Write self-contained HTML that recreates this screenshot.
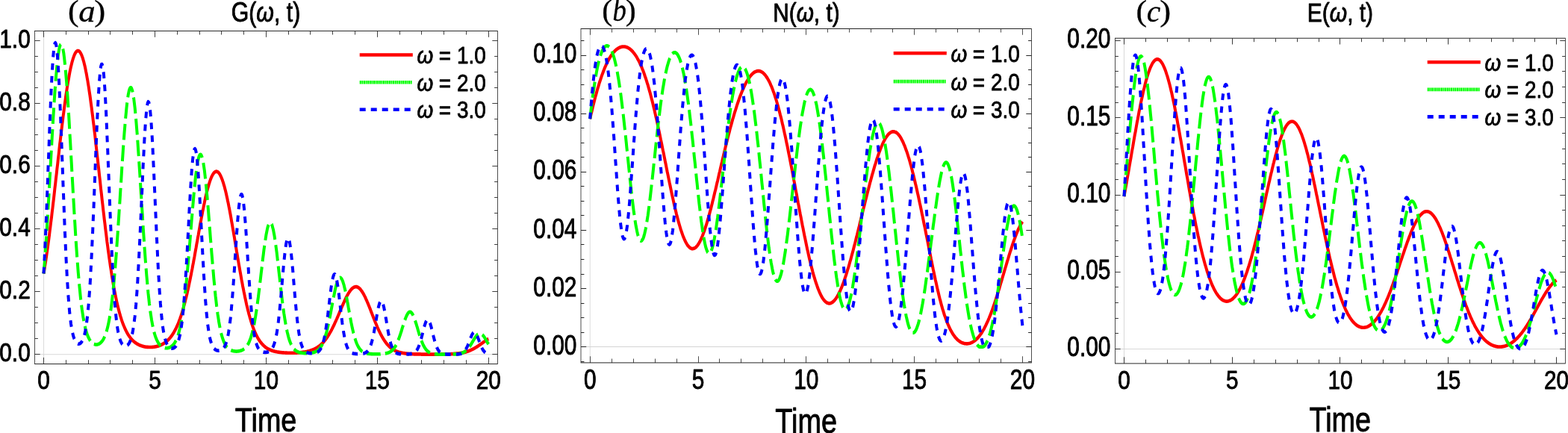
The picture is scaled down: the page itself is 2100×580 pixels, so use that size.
<!DOCTYPE html>
<html lang="en">
<head>
<meta charset="utf-8">
<title>G, N, E versus Time</title>
<style>
html,body{margin:0;padding:0;background:#fff;}
body{width:2100px;height:580px;overflow:hidden;}
svg{display:block;}
</style>
</head>
<body>
<svg width="2100" height="580" viewBox="0 0 2100 580">
<rect width="2100" height="580" fill="#fff"/>
<g id="panel-a">
<g transform="scale(1,1.1800)" fill="none" stroke="#d4d4d4" stroke-width="0.82"><path d="M58.55 35.169V413.136 M46.50 402.331H666.50"/></g>
<g transform="scale(1,1.1600)" fill="none" stroke-width="4" stroke-linejoin="round">
<path d="M58.5 315.9L59.3 312.0L60.0 308.0L60.8 303.8L61.5 299.6L62.3 295.2L63.0 290.7L63.8 286.1L64.5 281.3L65.3 276.5L66.0 271.6L66.7 266.5L67.5 261.4L68.2 256.2L69.0 250.9L69.7 245.5L70.5 240.1L71.2 234.6L72.0 229.0L72.7 223.4L73.4 217.7L74.2 212.1L74.9 206.3L75.7 200.6L76.4 194.9L77.2 189.2L77.9 183.5L78.7 177.8L79.4 172.1L80.1 166.5L80.9 161.0L81.6 155.5L82.4 150.0L83.1 144.7L83.9 139.4L84.6 134.3L85.4 129.2L86.1 124.3L86.8 119.5L87.6 114.8L88.3 110.3L89.1 105.9L89.8 101.6L90.6 97.6L91.3 93.7L92.1 90.0L92.8 86.4L93.5 83.1L94.3 79.9L95.0 77.0L95.8 74.2L96.5 71.7L97.3 69.4L98.0 67.3L98.8 65.4L99.5 63.7L100.3 62.3L101.0 61.1L101.7 60.1L102.5 59.4L103.2 58.9L104.0 58.6L104.7 58.6L105.5 58.8L106.2 59.3L107.0 60.0L107.7 60.9L108.4 62.0L109.2 63.4L109.9 65.0L110.7 66.9L111.4 69.0L112.2 71.3L112.9 73.8L113.7 76.5L114.4 79.4L115.1 82.6L115.9 85.9L116.6 89.5L117.4 93.2L118.1 97.1L118.9 101.2L119.6 105.4L120.4 109.9L121.1 114.4L121.8 119.2L122.6 124.0L123.3 129.0L124.1 134.1L124.8 139.4L125.6 144.7L126.3 150.1L127.1 155.6L127.8 161.2L128.5 166.9L129.3 172.6L130.0 178.4L130.8 184.2L131.5 190.0L132.3 195.8L133.0 201.7L133.8 207.5L134.5 213.3L135.2 219.1L136.0 224.9L136.7 230.7L137.5 236.3L138.2 242.0L139.0 247.6L139.7 253.1L140.5 258.5L141.2 263.9L142.0 269.2L142.7 274.3L143.4 279.4L144.2 284.4L144.9 289.2L145.7 294.0L146.4 298.6L147.2 303.1L147.9 307.5L148.7 311.8L149.4 315.9L150.1 319.9L150.9 323.8L151.6 327.5L152.4 331.2L153.1 334.7L153.9 338.0L154.6 341.3L155.4 344.4L156.1 347.4L156.8 350.2L157.6 353.0L158.3 355.6L159.1 358.2L159.8 360.6L160.6 362.9L161.3 365.1L162.1 367.2L162.8 369.2L163.5 371.0L164.3 372.9L165.0 374.6L165.8 376.2L166.5 377.7L167.3 379.2L168.0 380.6L168.8 381.9L169.5 383.2L170.2 384.3L171.0 385.5L171.7 386.5L172.5 387.5L173.2 388.4L174.0 389.3L174.7 390.2L175.5 391.0L176.2 391.7L176.9 392.4L177.7 393.1L178.4 393.7L179.2 394.3L179.9 394.8L180.7 395.3L181.4 395.8L182.2 396.2L182.9 396.7L183.7 397.1L184.4 397.4L185.1 397.8L185.9 398.1L186.6 398.4L187.4 398.7L188.1 398.9L188.9 399.2L189.6 399.4L190.4 399.6L191.1 399.8L191.8 400.0L192.6 400.1L193.3 400.3L194.1 400.4L194.8 400.5L195.6 400.6L196.3 400.7L197.1 400.7L197.8 400.8L198.5 400.8L199.3 400.9L200.0 400.9L200.8 400.9L201.5 400.9L202.3 400.9L203.0 400.9L203.8 400.8L204.5 400.8L205.2 400.7L206.0 400.6L206.7 400.5L207.5 400.4L208.2 400.3L209.0 400.2L209.7 400.0L210.5 399.9L211.2 399.7L211.9 399.5L212.7 399.3L213.4 399.1L214.2 398.8L214.9 398.5L215.7 398.3L216.4 398.0L217.2 397.6L217.9 397.3L218.6 396.9L219.4 396.5L220.1 396.1L220.9 395.7L221.6 395.2L222.4 394.7L223.1 394.2L223.9 393.6L224.6 393.0L225.4 392.4L226.1 391.7L226.8 391.0L227.6 390.3L228.3 389.5L229.1 388.7L229.8 387.8L230.6 386.9L231.3 385.9L232.1 384.9L232.8 383.9L233.5 382.7L234.3 381.6L235.0 380.3L235.8 379.1L236.5 377.7L237.3 376.3L238.0 374.8L238.8 373.3L239.5 371.6L240.2 370.0L241.0 368.2L241.7 366.4L242.5 364.5L243.2 362.5L244.0 360.4L244.7 358.3L245.5 356.1L246.2 353.8L246.9 351.4L247.7 349.0L248.4 346.5L249.2 343.9L249.9 341.2L250.7 338.4L251.4 335.6L252.2 332.7L252.9 329.7L253.6 326.7L254.4 323.6L255.1 320.4L255.9 317.2L256.6 313.9L257.4 310.5L258.1 307.1L258.9 303.7L259.6 300.2L260.4 296.7L261.1 293.1L261.8 289.6L262.6 286.0L263.3 282.3L264.1 278.7L264.8 275.1L265.6 271.5L266.3 267.9L267.1 264.3L267.8 260.8L268.5 257.2L269.3 253.8L270.0 250.3L270.8 247.0L271.5 243.6L272.3 240.4L273.0 237.2L273.8 234.1L274.5 231.1L275.2 228.2L276.0 225.4L276.7 222.7L277.5 220.1L278.2 217.6L279.0 215.3L279.7 213.1L280.5 211.0L281.2 209.1L281.9 207.3L282.7 205.6L283.4 204.1L284.2 202.8L284.9 201.6L285.7 200.6L286.4 199.7L287.2 199.1L287.9 198.5L288.6 198.2L289.4 198.0L290.1 198.0L290.9 198.2L291.6 198.5L292.4 199.0L293.1 199.7L293.9 200.6L294.6 201.6L295.3 202.8L296.1 204.2L296.8 205.7L297.6 207.3L298.3 209.2L299.1 211.2L299.8 213.3L300.6 215.6L301.3 218.0L302.1 220.6L302.8 223.2L303.5 226.0L304.3 229.0L305.0 232.0L305.8 235.1L306.5 238.4L307.3 241.7L308.0 245.1L308.8 248.6L309.5 252.2L310.2 255.8L311.0 259.5L311.7 263.2L312.5 267.0L313.2 270.8L314.0 274.6L314.7 278.5L315.5 282.4L316.2 286.2L316.9 290.1L317.7 293.9L318.4 297.7L319.2 301.6L319.9 305.3L320.7 309.1L321.4 312.7L322.2 316.4L322.9 320.0L323.6 323.5L324.4 327.0L325.1 330.4L325.9 333.7L326.6 336.9L327.4 340.1L328.1 343.2L328.9 346.2L329.6 349.1L330.3 352.0L331.1 354.7L331.8 357.3L332.6 359.9L333.3 362.4L334.1 364.7L334.8 367.0L335.6 369.2L336.3 371.3L337.0 373.3L337.8 375.3L338.5 377.1L339.3 378.9L340.0 380.6L340.8 382.2L341.5 383.7L342.3 385.1L343.0 386.5L343.8 387.8L344.5 389.0L345.2 390.2L346.0 391.3L346.7 392.3L347.5 393.3L348.2 394.2L349.0 395.1L349.7 395.9L350.5 396.7L351.2 397.4L351.9 398.1L352.7 398.8L353.4 399.4L354.2 399.9L354.9 400.5L355.7 401.0L356.4 401.4L357.2 401.9L357.9 402.3L358.6 402.7L359.4 403.0L360.1 403.4L360.9 403.7L361.6 404.0L362.4 404.2L363.1 404.5L363.9 404.7L364.6 405.0L365.3 405.2L366.1 405.4L366.8 405.5L367.6 405.7L368.3 405.9L369.1 406.0L369.8 406.1L370.6 406.3L371.3 406.4L372.0 406.5L372.8 406.6L373.5 406.7L374.3 406.8L375.0 406.9L375.8 406.9L376.5 407.0L377.3 407.1L378.0 407.1L378.7 407.2L379.5 407.2L380.2 407.3L381.0 407.3L381.7 407.3L382.5 407.4L383.2 407.4L384.0 407.4L384.7 407.5L385.5 407.5L386.2 407.5L386.9 407.5L387.7 407.5L388.4 407.5L389.2 407.5L389.9 407.5L390.7 407.5L391.4 407.5L392.2 407.5L392.9 407.5L393.6 407.5L394.4 407.5L395.1 407.4L395.9 407.4L396.6 407.4L397.4 407.4L398.1 407.3L398.9 407.3L399.6 407.2L400.3 407.2L401.1 407.1L401.8 407.1L402.6 407.0L403.3 407.0L404.1 406.9L404.8 406.8L405.6 406.7L406.3 406.6L407.0 406.6L407.8 406.5L408.5 406.4L409.3 406.2L410.0 406.1L410.8 406.0L411.5 405.9L412.3 405.7L413.0 405.5L413.7 405.4L414.5 405.2L415.2 405.0L416.0 404.8L416.7 404.6L417.5 404.4L418.2 404.1L419.0 403.9L419.7 403.6L420.4 403.3L421.2 403.0L421.9 402.7L422.7 402.4L423.4 402.0L424.2 401.6L424.9 401.2L425.7 400.8L426.4 400.3L427.2 399.9L427.9 399.4L428.6 398.9L429.4 398.3L430.1 397.7L430.9 397.1L431.6 396.5L432.4 395.8L433.1 395.1L433.9 394.4L434.6 393.6L435.3 392.8L436.1 392.0L436.8 391.1L437.6 390.2L438.3 389.3L439.1 388.3L439.8 387.3L440.6 386.3L441.3 385.2L442.0 384.1L442.8 382.9L443.5 381.8L444.3 380.6L445.0 379.3L445.8 378.0L446.5 376.7L447.3 375.4L448.0 374.0L448.7 372.6L449.5 371.2L450.2 369.8L451.0 368.3L451.7 366.9L452.5 365.4L453.2 363.9L454.0 362.4L454.7 360.8L455.4 359.3L456.2 357.8L456.9 356.3L457.7 354.8L458.4 353.3L459.2 351.8L459.9 350.4L460.7 348.9L461.4 347.5L462.2 346.1L462.9 344.8L463.6 343.5L464.4 342.2L465.1 341.0L465.9 339.9L466.6 338.8L467.4 337.8L468.1 336.8L468.9 335.9L469.6 335.0L470.3 334.3L471.1 333.6L471.8 333.0L472.6 332.5L473.3 332.0L474.1 331.7L474.8 331.4L475.6 331.2L476.3 331.1L477.0 331.2L477.8 331.2L478.5 331.4L479.3 331.7L480.0 332.1L480.8 332.6L481.5 333.1L482.3 333.7L483.0 334.5L483.7 335.3L484.5 336.2L485.2 337.1L486.0 338.2L486.7 339.3L487.5 340.5L488.2 341.7L489.0 343.0L489.7 344.4L490.4 345.8L491.2 347.2L491.9 348.7L492.7 350.3L493.4 351.8L494.2 353.4L494.9 355.0L495.7 356.7L496.4 358.3L497.1 360.0L497.9 361.6L498.6 363.3L499.4 364.9L500.1 366.6L500.9 368.2L501.6 369.9L502.4 371.5L503.1 373.0L503.9 374.6L504.6 376.1L505.3 377.6L506.1 379.1L506.8 380.5L507.6 381.9L508.3 383.2L509.1 384.6L509.8 385.8L510.6 387.1L511.3 388.2L512.0 389.4L512.8 390.5L513.5 391.5L514.3 392.5L515.0 393.5L515.8 394.4L516.5 395.3L517.3 396.2L518.0 397.0L518.7 397.7L519.5 398.4L520.2 399.1L521.0 399.8L521.7 400.4L522.5 401.0L523.2 401.5L524.0 402.0L524.7 402.5L525.4 403.0L526.2 403.4L526.9 403.8L527.7 404.2L528.4 404.5L529.2 404.9L529.9 405.2L530.7 405.5L531.4 405.7L532.1 406.0L532.9 406.2L533.6 406.4L534.4 406.6L535.1 406.8L535.9 407.0L536.6 407.2L537.4 407.3L538.1 407.4L538.8 407.6L539.6 407.7L540.3 407.8L541.1 407.9L541.8 408.0L542.6 408.1L543.3 408.2L544.1 408.2L544.8 408.3L545.6 408.4L546.3 408.4L547.0 408.5L547.8 408.5L548.5 408.6L549.3 408.6L550.0 408.7L550.8 408.7L551.5 408.7L552.3 408.8L553.0 408.8L553.7 408.8L554.5 408.9L555.2 408.9L556.0 408.9L556.7 408.9L557.5 408.9L558.2 409.0L559.0 409.0L559.7 409.0L560.4 409.0L561.2 409.0L561.9 409.0L562.7 409.0L563.4 409.0L564.2 409.1L564.9 409.1L565.7 409.1L566.4 409.1L567.1 409.1L567.9 409.1L568.6 409.1L569.4 409.1L570.1 409.1L570.9 409.1L571.6 409.1L572.4 409.1L573.1 409.1L573.8 409.1L574.6 409.1L575.3 409.1L576.1 409.1L576.8 409.1L577.6 409.1L578.3 409.1L579.1 409.1L579.8 409.1L580.5 409.1L581.3 409.1L582.0 409.1L582.8 409.1L583.5 409.1L584.3 409.1L585.0 409.1L585.8 409.1L586.5 409.1L587.3 409.1L588.0 409.1L588.7 409.1L589.5 409.1L590.2 409.1L591.0 409.0L591.7 409.0L592.5 409.0L593.2 409.0L594.0 409.0L594.7 409.0L595.4 409.0L596.2 409.0L596.9 409.0L597.7 408.9L598.4 408.9L599.2 408.9L599.9 408.9L600.7 408.9L601.4 408.8L602.1 408.8L602.9 408.8L603.6 408.8L604.4 408.7L605.1 408.7L605.9 408.7L606.6 408.6L607.4 408.6L608.1 408.5L608.8 408.5L609.6 408.4L610.3 408.4L611.1 408.3L611.8 408.3L612.6 408.2L613.3 408.1L614.1 408.0L614.8 408.0L615.5 407.9L616.3 407.8L617.0 407.7L617.8 407.6L618.5 407.5L619.3 407.3L620.0 407.2L620.8 407.1L621.5 406.9L622.3 406.8L623.0 406.6L623.7 406.4L624.5 406.2L625.2 406.0L626.0 405.8L626.7 405.6L627.5 405.4L628.2 405.1L629.0 404.9L629.7 404.6L630.4 404.3L631.2 404.0L631.9 403.7L632.7 403.4L633.4 403.1L634.2 402.7L634.9 402.4L635.7 402.0L636.4 401.7L637.1 401.3L637.9 400.9L638.6 400.5L639.4 400.1L640.1 399.6L640.9 399.2L641.6 398.8L642.4 398.3L643.1 397.9L643.8 397.4L644.6 396.9L645.3 396.5L646.1 396.0L646.8 395.6L647.6 395.1L648.3 394.6L649.1 394.2L649.8 393.8L650.5 393.3L651.3 392.9L652.0 392.5L652.8 392.1L653.5 391.7L654.3 391.4" stroke="#ff0000"/>
<path d="M58.5 315.9L59.3 308.0L60.0 299.5L60.8 290.5L61.5 281.1L62.3 271.3L63.0 261.0L63.8 250.4L64.5 239.5L65.3 228.3L66.0 216.8L66.7 205.3L67.5 193.7L68.2 182.0L69.0 170.5L69.7 159.1L70.5 147.9L71.2 137.0L72.0 126.5L72.7 116.4L73.4 106.9L74.2 97.9L74.9 89.6L75.7 82.0L76.4 75.1L77.2 69.1L77.9 63.8L78.7 59.5L79.4 56.0L80.1 53.5L80.9 51.8L81.6 51.2L82.4 51.4L83.1 52.7L83.9 54.8L84.6 57.9L85.4 61.9L86.1 66.8L86.8 72.5L87.6 79.0L88.3 86.4L89.1 94.4L89.8 103.1L90.6 112.5L91.3 122.3L92.1 132.7L92.8 143.5L93.5 154.6L94.3 166.0L95.0 177.6L95.8 189.3L96.5 201.0L97.3 212.7L98.0 224.2L98.8 235.6L99.5 246.8L100.3 257.6L101.0 268.1L101.7 278.2L102.5 287.9L103.2 297.1L104.0 305.8L104.7 314.1L105.5 321.8L106.2 329.0L107.0 335.8L107.7 342.0L108.4 347.8L109.2 353.1L109.9 357.9L110.7 362.4L111.4 366.4L112.2 370.1L112.9 373.4L113.7 376.5L114.4 379.2L115.1 381.6L115.9 383.8L116.6 385.7L117.4 387.5L118.1 389.0L118.9 390.4L119.6 391.6L120.4 392.7L121.1 393.7L121.8 394.5L122.6 395.2L123.3 395.8L124.1 396.4L124.8 396.8L125.6 397.2L126.3 397.4L127.1 397.6L127.8 397.8L128.5 397.9L129.3 397.9L130.0 397.8L130.8 397.7L131.5 397.5L132.3 397.2L133.0 396.9L133.8 396.5L134.5 396.0L135.2 395.4L136.0 394.7L136.7 394.0L137.5 393.1L138.2 392.1L139.0 390.9L139.7 389.6L140.5 388.1L141.2 386.5L142.0 384.7L142.7 382.6L143.4 380.3L144.2 377.8L144.9 375.0L145.7 371.9L146.4 368.5L147.2 364.8L147.9 360.7L148.7 356.2L149.4 351.3L150.1 346.1L150.9 340.4L151.6 334.3L152.4 327.7L153.1 320.7L153.9 313.3L154.6 305.5L155.4 297.2L156.1 288.6L156.8 279.6L157.6 270.3L158.3 260.7L159.1 250.9L159.8 241.0L160.6 230.9L161.3 220.7L162.1 210.5L162.8 200.5L163.5 190.5L164.3 180.8L165.0 171.4L165.8 162.3L166.5 153.6L167.3 145.5L168.0 137.8L168.8 130.8L169.5 124.4L170.2 118.7L171.0 113.7L171.7 109.5L172.5 106.2L173.2 103.6L174.0 101.9L174.7 101.1L175.5 101.1L176.2 102.0L176.9 103.7L177.7 106.3L178.4 109.7L179.2 114.0L179.9 119.0L180.7 124.8L181.4 131.3L182.2 138.5L182.9 146.2L183.7 154.5L184.4 163.4L185.1 172.6L185.9 182.2L186.6 192.2L187.4 202.3L188.1 212.6L188.9 223.0L189.6 233.4L190.4 243.7L191.1 253.9L191.8 263.9L192.6 273.7L193.3 283.2L194.1 292.4L194.8 301.2L195.6 309.6L196.3 317.5L197.1 325.1L197.8 332.1L198.5 338.8L199.3 344.9L200.0 350.7L200.8 355.9L201.5 360.8L202.3 365.2L203.0 369.3L203.8 373.0L204.5 376.4L205.2 379.4L206.0 382.1L206.7 384.6L207.5 386.8L208.2 388.8L209.0 390.5L209.7 392.1L210.5 393.5L211.2 394.7L211.9 395.8L212.7 396.8L213.4 397.6L214.2 398.4L214.9 399.1L215.7 399.6L216.4 400.1L217.2 400.5L217.9 400.9L218.6 401.2L219.4 401.4L220.1 401.6L220.9 401.8L221.6 401.9L222.4 401.9L223.1 402.0L223.9 401.9L224.6 401.8L225.4 401.7L226.1 401.5L226.8 401.3L227.6 401.0L228.3 400.7L229.1 400.3L229.8 399.9L230.6 399.3L231.3 398.7L232.1 398.0L232.8 397.3L233.5 396.4L234.3 395.4L235.0 394.2L235.8 393.0L236.5 391.6L237.3 390.0L238.0 388.2L238.8 386.2L239.5 384.1L240.2 381.6L241.0 379.0L241.7 376.1L242.5 372.9L243.2 369.3L244.0 365.5L244.7 361.4L245.5 356.9L246.2 352.1L246.9 346.9L247.7 341.4L248.4 335.5L249.2 329.3L249.9 322.8L250.7 316.0L251.4 308.9L252.2 301.6L252.9 294.1L253.6 286.3L254.4 278.5L255.1 270.6L255.9 262.7L256.6 254.8L257.4 247.0L258.1 239.3L258.9 231.9L259.6 224.7L260.4 217.9L261.1 211.5L261.8 205.4L262.6 199.9L263.3 195.0L264.1 190.6L264.8 186.8L265.6 183.7L266.3 181.3L267.1 179.6L267.8 178.6L268.5 178.4L269.3 178.8L270.0 180.1L270.8 182.0L271.5 184.7L272.3 188.0L273.0 192.0L273.8 196.6L274.5 201.9L275.2 207.6L276.0 213.9L276.7 220.6L277.5 227.7L278.2 235.2L279.0 242.9L279.7 250.8L280.5 258.9L281.2 267.1L281.9 275.3L282.7 283.4L283.4 291.5L284.2 299.4L284.9 307.2L285.7 314.7L286.4 321.9L287.2 328.8L287.9 335.4L288.6 341.7L289.4 347.6L290.1 353.1L290.9 358.2L291.6 363.0L292.4 367.4L293.1 371.5L293.9 375.2L294.6 378.6L295.3 381.6L296.1 384.4L296.8 386.9L297.6 389.2L298.3 391.2L299.1 393.0L299.8 394.6L300.6 396.1L301.3 397.3L302.1 398.5L302.8 399.5L303.5 400.4L304.3 401.1L305.0 401.8L305.8 402.4L306.5 403.0L307.3 403.4L308.0 403.8L308.8 404.2L309.5 404.5L310.2 404.7L311.0 405.0L311.7 405.1L312.5 405.3L313.2 405.4L314.0 405.5L314.7 405.6L315.5 405.6L316.2 405.7L316.9 405.7L317.7 405.6L318.4 405.6L319.2 405.5L319.9 405.4L320.7 405.3L321.4 405.2L322.2 405.0L322.9 404.8L323.6 404.5L324.4 404.2L325.1 403.9L325.9 403.5L326.6 403.1L327.4 402.6L328.1 402.0L328.9 401.4L329.6 400.7L330.3 399.8L331.1 398.9L331.8 397.9L332.6 396.8L333.3 395.5L334.1 394.0L334.8 392.4L335.6 390.7L336.3 388.7L337.0 386.6L337.8 384.2L338.5 381.7L339.3 378.8L340.0 375.8L340.8 372.5L341.5 368.9L342.3 365.1L343.0 361.1L343.8 356.8L344.5 352.3L345.2 347.5L346.0 342.6L346.7 337.5L347.5 332.2L348.2 326.8L349.0 321.3L349.7 315.8L350.5 310.3L351.2 304.8L351.9 299.4L352.7 294.1L353.4 289.0L354.2 284.1L354.9 279.5L355.7 275.3L356.4 271.4L357.2 267.8L357.9 264.8L358.6 262.2L359.4 260.1L360.1 258.5L360.9 257.5L361.6 257.0L362.4 257.1L363.1 257.7L363.9 258.9L364.6 260.7L365.3 263.0L366.1 265.7L366.8 269.0L367.6 272.7L368.3 276.9L369.1 281.4L369.8 286.2L370.6 291.3L371.3 296.6L372.0 302.2L372.8 307.8L373.5 313.5L374.3 319.3L375.0 325.0L375.8 330.7L376.5 336.3L377.3 341.8L378.0 347.0L378.7 352.1L379.5 356.9L380.2 361.5L381.0 365.9L381.7 369.9L382.5 373.7L383.2 377.2L384.0 380.5L384.7 383.5L385.5 386.2L386.2 388.7L386.9 390.9L387.7 392.9L388.4 394.7L389.2 396.4L389.9 397.8L390.7 399.1L391.4 400.2L392.2 401.3L392.9 402.1L393.6 402.9L394.4 403.6L395.1 404.2L395.9 404.7L396.6 405.2L397.4 405.6L398.1 406.0L398.9 406.3L399.6 406.5L400.3 406.8L401.1 407.0L401.8 407.1L402.6 407.3L403.3 407.4L404.1 407.5L404.8 407.6L405.6 407.7L406.3 407.8L407.0 407.8L407.8 407.9L408.5 407.9L409.3 407.9L410.0 407.9L410.8 407.9L411.5 407.9L412.3 407.9L413.0 407.9L413.7 407.8L414.5 407.8L415.2 407.7L416.0 407.6L416.7 407.5L417.5 407.4L418.2 407.3L419.0 407.2L419.7 407.0L420.4 406.8L421.2 406.6L421.9 406.3L422.7 406.0L423.4 405.7L424.2 405.3L424.9 404.9L425.7 404.4L426.4 403.9L427.2 403.3L427.9 402.6L428.6 401.8L429.4 400.9L430.1 400.0L430.9 398.9L431.6 397.7L432.4 396.3L433.1 394.8L433.9 393.2L434.6 391.4L435.3 389.5L436.1 387.4L436.8 385.1L437.6 382.7L438.3 380.1L439.1 377.3L439.8 374.4L440.6 371.4L441.3 368.2L442.0 365.0L442.8 361.6L443.5 358.2L444.3 354.7L445.0 351.3L445.8 347.8L446.5 344.5L447.3 341.2L448.0 338.1L448.7 335.1L449.5 332.3L450.2 329.7L451.0 327.4L451.7 325.4L452.5 323.8L453.2 322.4L454.0 321.4L454.7 320.8L455.4 320.6L456.2 320.7L456.9 321.3L457.7 322.2L458.4 323.5L459.2 325.1L459.9 327.1L460.7 329.4L461.4 331.9L462.2 334.7L462.9 337.8L463.6 341.0L464.4 344.4L465.1 347.9L465.9 351.4L466.6 355.0L467.4 358.6L468.1 362.2L468.9 365.7L469.6 369.1L470.3 372.4L471.1 375.6L471.8 378.6L472.6 381.5L473.3 384.2L474.1 386.7L474.8 389.1L475.6 391.2L476.3 393.2L477.0 395.0L477.8 396.7L478.5 398.1L479.3 399.5L480.0 400.7L480.8 401.7L481.5 402.6L482.3 403.5L483.0 404.2L483.7 404.8L484.5 405.4L485.2 405.9L486.0 406.3L486.7 406.7L487.5 407.0L488.2 407.3L489.0 407.5L489.7 407.7L490.4 407.9L491.2 408.0L491.9 408.2L492.7 408.3L493.4 408.4L494.2 408.5L494.9 408.5L495.7 408.6L496.4 408.6L497.1 408.7L497.9 408.7L498.6 408.8L499.4 408.8L500.1 408.8L500.9 408.8L501.6 408.8L502.4 408.8L503.1 408.8L503.9 408.8L504.6 408.8L505.3 408.8L506.1 408.8L506.8 408.8L507.6 408.8L508.3 408.8L509.1 408.8L509.8 408.7L510.6 408.7L511.3 408.7L512.0 408.6L512.8 408.6L513.5 408.5L514.3 408.4L515.0 408.3L515.8 408.2L516.5 408.1L517.3 408.0L518.0 407.8L518.7 407.7L519.5 407.5L520.2 407.2L521.0 407.0L521.7 406.7L522.5 406.3L523.2 405.9L524.0 405.5L524.7 405.0L525.4 404.4L526.2 403.8L526.9 403.0L527.7 402.2L528.4 401.3L529.2 400.4L529.9 399.3L530.7 398.1L531.4 396.8L532.1 395.4L532.9 393.8L533.6 392.2L534.4 390.5L535.1 388.7L535.9 386.8L536.6 384.9L537.4 382.9L538.1 380.8L538.8 378.7L539.6 376.6L540.3 374.6L541.1 372.6L541.8 370.6L542.6 368.8L543.3 367.1L544.1 365.5L544.8 364.1L545.6 362.9L546.3 361.8L547.0 361.1L547.8 360.5L548.5 360.2L549.3 360.1L550.0 360.3L550.8 360.8L551.5 361.5L552.3 362.5L553.0 363.6L553.7 365.0L554.5 366.6L555.2 368.3L556.0 370.2L556.7 372.1L557.5 374.2L558.2 376.3L559.0 378.5L559.7 380.7L560.4 382.8L561.2 385.0L561.9 387.0L562.7 389.0L563.4 390.9L564.2 392.7L564.9 394.4L565.7 396.0L566.4 397.5L567.1 398.8L567.9 400.0L568.6 401.2L569.4 402.2L570.1 403.1L570.9 403.9L571.6 404.6L572.4 405.2L573.1 405.8L573.8 406.2L574.6 406.7L575.3 407.0L576.1 407.3L576.8 407.6L577.6 407.8L578.3 408.0L579.1 408.2L579.8 408.4L580.5 408.5L581.3 408.6L582.0 408.7L582.8 408.8L583.5 408.8L584.3 408.9L585.0 408.9L585.8 409.0L586.5 409.0L587.3 409.0L588.0 409.0L588.7 409.1L589.5 409.1L590.2 409.1L591.0 409.1L591.7 409.1L592.5 409.1L593.2 409.1L594.0 409.1L594.7 409.1L595.4 409.2L596.2 409.2L596.9 409.2L597.7 409.2L598.4 409.2L599.2 409.2L599.9 409.2L600.7 409.1L601.4 409.1L602.1 409.1L602.9 409.1L603.6 409.1L604.4 409.1L605.1 409.1L605.9 409.1L606.6 409.1L607.4 409.0L608.1 409.0L608.8 409.0L609.6 409.0L610.3 408.9L611.1 408.9L611.8 408.8L612.6 408.7L613.3 408.7L614.1 408.6L614.8 408.5L615.5 408.4L616.3 408.2L617.0 408.1L617.8 407.9L618.5 407.7L619.3 407.5L620.0 407.2L620.8 406.9L621.5 406.5L622.3 406.1L623.0 405.7L623.7 405.2L624.5 404.7L625.2 404.1L626.0 403.4L626.7 402.7L627.5 401.9L628.2 401.1L629.0 400.2L629.7 399.2L630.4 398.2L631.2 397.2L631.9 396.1L632.7 395.0L633.4 393.9L634.2 392.8L634.9 391.8L635.7 390.7L636.4 389.7L637.1 388.8L637.9 387.9L638.6 387.2L639.4 386.5L640.1 386.0L640.9 385.6L641.6 385.3L642.4 385.1L643.1 385.1L643.8 385.3L644.6 385.6L645.3 386.0L646.1 386.6L646.8 387.2L647.6 388.0L648.3 388.9L649.1 389.9L649.8 390.9L650.5 392.0L651.3 393.1L652.0 394.2L652.8 395.4L653.5 396.5L654.3 397.6" stroke="#00ff00" stroke-dasharray="18.6 6.16" stroke-dashoffset="0"/>
<path d="M58.5 315.9L59.3 303.8L60.0 290.5L60.8 276.2L61.5 260.9L62.3 244.8L63.0 228.0L63.8 210.8L64.5 193.3L65.3 175.8L66.0 158.5L66.7 141.8L67.5 125.8L68.2 110.8L69.0 97.0L69.7 84.7L70.5 74.0L71.2 65.1L72.0 58.1L72.7 53.1L73.4 50.2L74.2 49.4L74.9 50.7L75.7 54.2L76.4 59.7L77.2 67.2L77.9 76.6L78.7 87.7L79.4 100.5L80.1 114.6L80.9 129.9L81.6 146.2L82.4 163.2L83.1 180.6L83.9 198.2L84.6 215.7L85.4 232.9L86.1 249.6L86.8 265.6L87.6 280.7L88.3 294.8L89.1 307.8L89.8 319.7L90.6 330.5L91.3 340.2L92.1 348.8L92.8 356.4L93.5 363.0L94.3 368.8L95.0 373.8L95.8 378.0L96.5 381.7L97.3 384.8L98.0 387.4L98.8 389.6L99.5 391.4L100.3 392.9L101.0 394.1L101.7 395.1L102.5 395.9L103.2 396.4L104.0 396.8L104.7 397.1L105.5 397.1L106.2 397.0L107.0 396.8L107.7 396.4L108.4 395.8L109.2 395.0L109.9 394.0L110.7 392.8L111.4 391.3L112.2 389.4L112.9 387.2L113.7 384.6L114.4 381.5L115.1 377.9L115.9 373.7L116.6 368.7L117.4 363.0L118.1 356.5L118.9 349.1L119.6 340.6L120.4 331.2L121.1 320.7L121.8 309.1L122.6 296.5L123.3 283.0L124.1 268.5L124.8 253.3L125.6 237.5L126.3 221.3L127.1 204.8L127.8 188.4L128.5 172.2L129.3 156.6L130.0 141.7L130.8 127.8L131.5 115.2L132.3 103.9L133.0 94.3L133.8 86.4L134.5 80.4L135.2 76.3L136.0 74.2L136.7 74.2L137.5 76.2L138.2 80.2L139.0 86.3L139.7 94.2L140.5 103.8L141.2 115.1L142.0 127.8L142.7 141.8L143.4 156.8L144.2 172.6L144.9 188.9L145.7 205.5L146.4 222.2L147.2 238.6L147.9 254.6L148.7 270.0L149.4 284.7L150.1 298.4L150.9 311.1L151.6 322.8L152.4 333.4L153.1 342.9L153.9 351.4L154.6 358.9L155.4 365.4L156.1 371.1L156.8 376.0L157.6 380.2L158.3 383.8L159.1 386.9L159.8 389.4L160.6 391.6L161.3 393.4L162.1 394.9L162.8 396.1L163.5 397.1L164.3 397.9L165.0 398.5L165.8 399.0L166.5 399.3L167.3 399.5L168.0 399.5L168.8 399.5L169.5 399.3L170.2 398.9L171.0 398.4L171.7 397.7L172.5 396.9L173.2 395.9L174.0 394.6L174.7 393.0L175.5 391.2L176.2 389.0L176.9 386.3L177.7 383.3L178.4 379.6L179.2 375.4L179.9 370.5L180.7 364.9L181.4 358.5L182.2 351.1L182.9 342.9L183.7 333.8L184.4 323.7L185.1 312.7L185.9 300.7L186.6 288.0L187.4 274.6L188.1 260.6L188.9 246.2L189.6 231.6L190.4 217.0L191.1 202.6L191.8 188.7L192.6 175.5L193.3 163.2L194.1 152.0L194.8 142.2L195.6 133.8L196.3 127.0L197.1 122.0L197.8 118.8L198.5 117.5L199.3 118.1L200.0 120.5L200.8 124.9L201.5 131.0L202.3 138.8L203.0 148.2L203.8 158.9L204.5 170.9L205.2 184.0L206.0 197.8L206.7 212.2L207.5 226.9L208.2 241.8L209.0 256.5L209.7 270.9L210.5 284.8L211.2 298.1L211.9 310.5L212.7 322.1L213.4 332.7L214.2 342.3L214.9 350.9L215.7 358.6L216.4 365.4L217.2 371.3L217.9 376.5L218.6 380.9L219.4 384.7L220.1 387.9L220.9 390.7L221.6 393.0L222.4 394.9L223.1 396.5L223.9 397.9L224.6 399.0L225.4 399.9L226.1 400.6L226.8 401.2L227.6 401.6L228.3 401.9L229.1 402.2L229.8 402.3L230.6 402.3L231.3 402.2L232.1 402.1L232.8 401.8L233.5 401.4L234.3 400.9L235.0 400.3L235.8 399.5L236.5 398.5L237.3 397.3L238.0 395.9L238.8 394.2L239.5 392.1L240.2 389.7L241.0 386.9L241.7 383.6L242.5 379.7L243.2 375.3L244.0 370.1L244.7 364.3L245.5 357.7L246.2 350.3L246.9 342.1L247.7 333.1L248.4 323.3L249.2 312.9L249.9 301.7L250.7 290.1L251.4 278.1L252.2 265.9L252.9 253.7L253.6 241.6L254.4 229.9L255.1 218.8L255.9 208.5L256.6 199.1L257.4 190.9L258.1 184.0L258.9 178.5L259.6 174.6L260.4 172.3L261.1 171.7L261.8 172.7L262.6 175.4L263.3 179.7L264.1 185.6L264.8 192.9L265.6 201.5L266.3 211.2L267.1 222.0L267.8 233.4L268.5 245.5L269.3 257.9L270.0 270.4L270.8 282.8L271.5 295.0L272.3 306.8L273.0 318.0L273.8 328.5L274.5 338.3L275.2 347.2L276.0 355.3L276.7 362.6L277.5 369.0L278.2 374.7L279.0 379.6L279.7 383.8L280.5 387.5L281.2 390.6L281.9 393.2L282.7 395.4L283.4 397.3L284.2 398.8L284.9 400.1L285.7 401.2L286.4 402.1L287.2 402.8L287.9 403.4L288.6 403.8L289.4 404.2L290.1 404.5L290.9 404.7L291.6 404.8L292.4 404.9L293.1 404.9L293.9 404.8L294.6 404.7L295.3 404.5L296.1 404.3L296.8 403.9L297.6 403.5L298.3 402.9L299.1 402.2L299.8 401.4L300.6 400.4L301.3 399.2L302.1 397.8L302.8 396.0L303.5 394.0L304.3 391.6L305.0 388.8L305.8 385.5L306.5 381.7L307.3 377.3L308.0 372.3L308.8 366.7L309.5 360.4L310.2 353.4L311.0 345.8L311.7 337.6L312.5 328.8L313.2 319.6L314.0 310.0L314.7 300.1L315.5 290.2L316.2 280.4L316.9 270.9L317.7 261.8L318.4 253.4L319.2 245.8L319.9 239.1L320.7 233.5L321.4 229.2L322.2 226.2L322.9 224.6L323.6 224.4L324.4 225.7L325.1 228.4L325.9 232.4L326.6 237.7L327.4 244.2L328.1 251.8L328.9 260.2L329.6 269.3L330.3 278.9L331.1 288.9L331.8 299.0L332.6 309.1L333.3 319.1L334.1 328.6L334.8 337.7L335.6 346.3L336.3 354.2L337.0 361.4L337.8 367.9L338.5 373.8L339.3 378.9L340.0 383.4L340.8 387.3L341.5 390.6L342.3 393.5L343.0 395.9L343.8 397.9L344.5 399.6L345.2 401.0L346.0 402.2L346.7 403.2L347.5 403.9L348.2 404.6L349.0 405.1L349.7 405.6L350.5 405.9L351.2 406.2L351.9 406.4L352.7 406.6L353.4 406.7L354.2 406.8L354.9 406.8L355.7 406.8L356.4 406.8L357.2 406.7L357.9 406.6L358.6 406.4L359.4 406.2L360.1 405.9L360.9 405.5L361.6 405.1L362.4 404.6L363.1 404.0L363.9 403.2L364.6 402.2L365.3 401.1L366.1 399.8L366.8 398.2L367.6 396.3L368.3 394.1L369.1 391.5L369.8 388.5L370.6 385.0L371.3 381.0L372.0 376.6L372.8 371.6L373.5 366.1L374.3 360.1L375.0 353.6L375.8 346.8L376.5 339.6L377.3 332.2L378.0 324.7L378.7 317.2L379.5 310.0L380.2 303.0L381.0 296.5L381.7 290.7L382.5 285.6L383.2 281.4L384.0 278.2L384.7 276.0L385.5 275.0L386.2 275.2L386.9 276.5L387.7 278.9L388.4 282.5L389.2 287.0L389.9 292.4L390.7 298.6L391.4 305.4L392.2 312.6L392.9 320.1L393.6 327.8L394.4 335.5L395.1 343.1L395.9 350.4L396.6 357.3L397.4 363.8L398.1 369.8L398.9 375.2L399.6 380.1L400.3 384.4L401.1 388.2L401.8 391.5L402.6 394.4L403.3 396.8L404.1 398.8L404.8 400.5L405.6 402.0L406.3 403.1L407.0 404.1L407.8 404.9L408.5 405.6L409.3 406.1L410.0 406.5L410.8 406.9L411.5 407.2L412.3 407.4L413.0 407.6L413.7 407.7L414.5 407.8L415.2 407.9L416.0 408.0L416.7 408.0L417.5 408.0L418.2 408.0L419.0 408.0L419.7 408.0L420.4 407.9L421.2 407.8L421.9 407.7L422.7 407.5L423.4 407.3L424.2 407.1L424.9 406.8L425.7 406.4L426.4 405.9L427.2 405.4L427.9 404.7L428.6 403.9L429.4 402.9L430.1 401.8L430.9 400.4L431.6 398.7L432.4 396.8L433.1 394.5L433.9 392.0L434.6 389.0L435.3 385.6L436.1 381.9L436.8 377.8L437.6 373.3L438.3 368.4L439.1 363.3L439.8 358.0L440.6 352.6L441.3 347.2L442.0 341.9L442.8 336.8L443.5 332.0L444.3 327.7L445.0 323.9L445.8 320.9L446.5 318.6L447.3 317.2L448.0 316.6L448.7 316.9L449.5 318.1L450.2 320.2L451.0 323.1L451.7 326.7L452.5 330.9L453.2 335.6L454.0 340.8L454.7 346.2L455.4 351.7L456.2 357.3L456.9 362.8L457.7 368.1L458.4 373.1L459.2 377.8L459.9 382.1L460.7 386.0L461.4 389.5L462.2 392.6L462.9 395.3L463.6 397.6L464.4 399.6L465.1 401.2L465.9 402.6L466.6 403.8L467.4 404.7L468.1 405.5L468.9 406.2L469.6 406.7L470.3 407.1L471.1 407.5L471.8 407.7L472.6 407.9L473.3 408.1L474.1 408.3L474.8 408.4L475.6 408.5L476.3 408.5L477.0 408.6L477.8 408.6L478.5 408.7L479.3 408.7L480.0 408.7L480.8 408.7L481.5 408.7L482.3 408.6L483.0 408.6L483.7 408.5L484.5 408.5L485.2 408.4L486.0 408.3L486.7 408.2L487.5 408.0L488.2 407.8L489.0 407.5L489.7 407.2L490.4 406.8L491.2 406.4L491.9 405.8L492.7 405.1L493.4 404.3L494.2 403.2L494.9 402.1L495.7 400.7L496.4 399.0L497.1 397.1L497.9 394.9L498.6 392.5L499.4 389.7L500.1 386.7L500.9 383.4L501.6 379.9L502.4 376.3L503.1 372.5L503.9 368.7L504.6 365.0L505.3 361.3L506.1 358.0L506.8 354.9L507.6 352.3L508.3 350.2L509.1 348.6L509.8 347.7L510.6 347.4L511.3 347.8L512.0 348.8L512.8 350.5L513.5 352.7L514.3 355.5L515.0 358.6L515.8 362.1L516.5 365.9L517.3 369.7L518.0 373.7L518.7 377.5L519.5 381.2L520.2 384.8L521.0 388.1L521.7 391.1L522.5 393.9L523.2 396.3L524.0 398.4L524.7 400.3L525.4 401.8L526.2 403.2L526.9 404.3L527.7 405.2L528.4 406.0L529.2 406.6L529.9 407.1L530.7 407.5L531.4 407.8L532.1 408.1L532.9 408.3L533.6 408.4L534.4 408.6L535.1 408.7L535.9 408.8L536.6 408.8L537.4 408.9L538.1 408.9L538.8 408.9L539.6 409.0L540.3 409.0L541.1 409.0L541.8 409.0L542.6 409.0L543.3 409.0L544.1 409.0L544.8 409.0L545.6 409.0L546.3 408.9L547.0 408.9L547.8 408.9L548.5 408.8L549.3 408.7L550.0 408.6L550.8 408.5L551.5 408.4L552.3 408.2L553.0 408.0L553.7 407.7L554.5 407.4L555.2 407.0L556.0 406.5L556.7 405.9L557.5 405.2L558.2 404.4L559.0 403.3L559.7 402.2L560.4 400.8L561.2 399.2L561.9 397.4L562.7 395.5L563.4 393.3L564.2 391.0L564.9 388.5L565.7 386.0L566.4 383.4L567.1 380.9L567.9 378.4L568.6 376.1L569.4 374.0L570.1 372.2L570.9 370.8L571.6 369.8L572.4 369.3L573.1 369.2L573.8 369.6L574.6 370.4L575.3 371.7L576.1 373.4L576.8 375.5L577.6 377.8L578.3 380.3L579.1 382.9L579.8 385.6L580.5 388.2L581.3 390.8L582.0 393.2L582.8 395.5L583.5 397.6L584.3 399.4L585.0 401.1L585.8 402.5L586.5 403.7L587.3 404.7L588.0 405.6L588.7 406.3L589.5 406.9L590.2 407.4L591.0 407.8L591.7 408.1L592.5 408.3L593.2 408.5L594.0 408.6L594.7 408.8L595.4 408.9L596.2 408.9L596.9 409.0L597.7 409.0L598.4 409.1L599.2 409.1L599.9 409.1L600.7 409.1L601.4 409.1L602.1 409.2L602.9 409.2L603.6 409.2L604.4 409.2L605.1 409.2L605.9 409.2L606.6 409.2L607.4 409.2L608.1 409.1L608.8 409.1L609.6 409.1L610.3 409.1L611.1 409.1L611.8 409.0L612.6 409.0L613.3 408.9L614.1 408.9L614.8 408.8L615.5 408.7L616.3 408.6L617.0 408.4L617.8 408.2L618.5 407.9L619.3 407.6L620.0 407.2L620.8 406.7L621.5 406.1L622.3 405.4L623.0 404.6L623.7 403.6L624.5 402.5L625.2 401.3L626.0 399.9L626.7 398.4L627.5 396.8L628.2 395.1L629.0 393.4L629.7 391.6L630.4 389.9L631.2 388.4L631.9 386.9L632.7 385.7L633.4 384.8L634.2 384.1L634.9 383.8L635.7 383.8L636.4 384.1L637.1 384.8L637.9 385.7L638.6 386.9L639.4 388.4L640.1 390.0L640.9 391.7L641.6 393.5L642.4 395.3L643.1 397.0L643.8 398.7L644.6 400.2L645.3 401.6L646.1 402.9L646.8 404.0L647.6 404.9L648.3 405.7L649.1 406.4L649.8 407.0L650.5 407.5L651.3 407.8L652.0 408.1L652.8 408.4L653.5 408.6L654.3 408.7" stroke="#0000ff" stroke-dasharray="7.5 7.22" stroke-dashoffset="0"/>
</g>
<g transform="scale(1,1.1800)" fill="none" stroke-width="0.82">
<path d="M58.50 413.136v-7.288M58.50 35.169v7.034M88.50 413.136v-4.492M88.50 35.169v4.237M118.50 413.136v-4.492M118.50 35.169v4.237M147.50 413.136v-4.492M147.50 35.169v4.237M177.50 413.136v-4.492M177.50 35.169v4.237M207.50 413.136v-7.288M207.50 35.169v7.034M237.50 413.136v-4.492M237.50 35.169v4.237M267.50 413.136v-4.492M267.50 35.169v4.237M296.50 413.136v-4.492M296.50 35.169v4.237M326.50 413.136v-4.492M326.50 35.169v4.237M356.50 413.136v-7.288M356.50 35.169v7.034M386.50 413.136v-4.492M386.50 35.169v4.237M415.50 413.136v-4.492M415.50 35.169v4.237M445.50 413.136v-4.492M445.50 35.169v4.237M475.50 413.136v-4.492M475.50 35.169v4.237M505.50 413.136v-7.288M505.50 35.169v7.034M535.50 413.136v-4.492M535.50 35.169v4.237M564.50 413.136v-4.492M564.50 35.169v4.237M594.50 413.136v-4.492M594.50 35.169v4.237M624.50 413.136v-4.492M624.50 35.169v4.237M654.50 413.136v-7.288M654.50 35.169v7.034M46.50 402.119h7.20M666.50 402.119h-7.20M46.50 384.322h4.40M666.50 384.322h-4.40M46.50 366.525h4.40M666.50 366.525h-4.40M46.50 348.729h4.40M666.50 348.729h-4.40M46.50 330.932h7.20M666.50 330.932h-7.20M46.50 313.136h4.40M666.50 313.136h-4.40M46.50 295.339h4.40M666.50 295.339h-4.40M46.50 277.542h4.40M666.50 277.542h-4.40M46.50 259.746h7.20M666.50 259.746h-7.20M46.50 241.949h4.40M666.50 241.949h-4.40M46.50 224.153h4.40M666.50 224.153h-4.40M46.50 206.356h4.40M666.50 206.356h-4.40M46.50 188.559h7.20M666.50 188.559h-7.20M46.50 170.763h4.40M666.50 170.763h-4.40M46.50 152.966h4.40M666.50 152.966h-4.40M46.50 135.169h4.40M666.50 135.169h-4.40M46.50 117.373h7.20M666.50 117.373h-7.20M46.50 99.576h4.40M666.50 99.576h-4.40M46.50 81.780h4.40M666.50 81.780h-4.40M46.50 63.983h4.40M666.50 63.983h-4.40M46.50 46.186h7.20M666.50 46.186h-7.20" stroke="#262626"/>
<rect x="46.50" y="35.169" width="620.00" height="377.966" stroke="#262626"/>
</g>
<text transform="translate(40.70,484.28) scale(1,1.180)" font-family='"Liberation Sans", "DejaVu Sans", sans-serif' font-size="29.80" text-anchor="end" stroke="#000" stroke-width="0.75" stroke-linejoin="round" >0.0</text>
<text transform="translate(40.70,400.19) scale(1,1.180)" font-family='"Liberation Sans", "DejaVu Sans", sans-serif' font-size="29.80" text-anchor="end" stroke="#000" stroke-width="0.75" stroke-linejoin="round" >0.2</text>
<text transform="translate(40.70,316.10) scale(1,1.180)" font-family='"Liberation Sans", "DejaVu Sans", sans-serif' font-size="29.80" text-anchor="end" stroke="#000" stroke-width="0.75" stroke-linejoin="round" >0.4</text>
<text transform="translate(40.70,232.01) scale(1,1.180)" font-family='"Liberation Sans", "DejaVu Sans", sans-serif' font-size="29.80" text-anchor="end" stroke="#000" stroke-width="0.75" stroke-linejoin="round" >0.6</text>
<text transform="translate(40.70,147.92) scale(1,1.180)" font-family='"Liberation Sans", "DejaVu Sans", sans-serif' font-size="29.80" text-anchor="end" stroke="#000" stroke-width="0.75" stroke-linejoin="round" >0.8</text>
<text transform="translate(40.70,63.83) scale(1,1.180)" font-family='"Liberation Sans", "DejaVu Sans", sans-serif' font-size="29.80" text-anchor="end" stroke="#000" stroke-width="0.75" stroke-linejoin="round" >1.0</text>
<text transform="translate(58.55,521.08) scale(1,1.180)" font-family='"Liberation Sans", "DejaVu Sans", sans-serif' font-size="29.80" text-anchor="middle" stroke="#000" stroke-width="0.75" stroke-linejoin="round" >0</text>
<text transform="translate(207.48,521.08) scale(1,1.180)" font-family='"Liberation Sans", "DejaVu Sans", sans-serif' font-size="29.80" text-anchor="middle" stroke="#000" stroke-width="0.75" stroke-linejoin="round" >5</text>
<text transform="translate(356.41,521.08) scale(1,1.180)" font-family='"Liberation Sans", "DejaVu Sans", sans-serif' font-size="29.80" text-anchor="middle" stroke="#000" stroke-width="0.75" stroke-linejoin="round" >10</text>
<text transform="translate(505.34,521.08) scale(1,1.180)" font-family='"Liberation Sans", "DejaVu Sans", sans-serif' font-size="29.80" text-anchor="middle" stroke="#000" stroke-width="0.75" stroke-linejoin="round" >15</text>
<text transform="translate(654.27,521.08) scale(1,1.180)" font-family='"Liberation Sans", "DejaVu Sans", sans-serif' font-size="29.80" text-anchor="middle" stroke="#000" stroke-width="0.75" stroke-linejoin="round" >20</text>
<text transform="translate(356.10,577.70) scale(1,1.194)" font-family='"Liberation Sans", "DejaVu Sans", sans-serif' font-size="37.80" text-anchor="middle" stroke="#000" stroke-width="0.75" stroke-linejoin="round" >Time</text>
<text transform="translate(309.70,28.90) scale(1,1.200)" font-family='"Liberation Sans", "DejaVu Sans", sans-serif' font-size="30.30" text-anchor="start" stroke="#000" stroke-width="0.75" stroke-linejoin="round" >G(<tspan font-style="italic">ω</tspan>, t)</text>
<text transform="translate(90.88,27.79) scale(1.0951,0.9871)" font-family='"Liberation Serif", "DejaVu Serif", serif' font-size="40.0" stroke="#000" stroke-width="0.30">(</text>
<text transform="translate(105.26,29.28) scale(1.1211,1.0292)" font-family='"Liberation Serif", "DejaVu Serif", serif' font-size="40.0" font-style="italic" stroke="#000" stroke-width="0.30">a</text>
<text transform="translate(126.34,27.79) scale(1.1291,0.9871)" font-family='"Liberation Serif", "DejaVu Serif", serif' font-size="40.0" stroke="#000" stroke-width="0.30">)</text>
<g transform="scale(1,1.1600)" fill="none" stroke-width="4">
<path d="M481.70 63.362H552.80" stroke="#ff0000"/>
<path d="M481.70 95.000H551.90" stroke="#00ff00" stroke-dasharray="2.05 0.56"/>
<path d="M481.70 126.466H552.80" stroke="#0000ff" stroke-dasharray="8 7"/>
</g>
<text transform="translate(558.40,85.00) scale(1,1.150)" font-family='"Liberation Sans", "DejaVu Sans", sans-serif' font-size="27.90" text-anchor="start" stroke="#000" stroke-width="0.75" stroke-linejoin="round" ><tspan font-style="italic">ω</tspan> = 1.0</text>
<text transform="translate(558.40,121.70) scale(1,1.150)" font-family='"Liberation Sans", "DejaVu Sans", sans-serif' font-size="27.90" text-anchor="start" stroke="#000" stroke-width="0.75" stroke-linejoin="round" ><tspan font-style="italic">ω</tspan> = 2.0</text>
<text transform="translate(558.40,158.20) scale(1,1.150)" font-family='"Liberation Sans", "DejaVu Sans", sans-serif' font-size="27.90" text-anchor="start" stroke="#000" stroke-width="0.75" stroke-linejoin="round" ><tspan font-style="italic">ω</tspan> = 3.0</text>
</g>
<g id="panel-b">
<g transform="scale(1,1.2320)" fill="none" stroke="#d4d4d4" stroke-width="0.82"><path d="M790.20 31.250V394.399 M778.00 377.110H1381.50"/></g>
<g transform="scale(1,1.1600)" fill="none" stroke-width="4" stroke-linejoin="round">
<path d="M790.2 137.3L790.9 134.5L791.6 131.8L792.4 129.2L793.1 126.6L793.8 124.0L794.5 121.4L795.3 118.9L796.0 116.5L796.7 114.0L797.4 111.7L798.2 109.4L798.9 107.1L799.6 104.8L800.3 102.7L801.1 100.5L801.8 98.4L802.5 96.4L803.2 94.4L804.0 92.5L804.7 90.6L805.4 88.8L806.1 87.0L806.9 85.2L807.6 83.6L808.3 81.9L809.0 80.4L809.7 78.8L810.5 77.3L811.2 75.9L811.9 74.5L812.6 73.2L813.4 71.9L814.1 70.7L814.8 69.5L815.5 68.3L816.3 67.3L817.0 66.2L817.7 65.2L818.4 64.2L819.2 63.3L819.9 62.5L820.6 61.7L821.3 60.9L822.1 60.1L822.8 59.5L823.5 58.8L824.2 58.2L825.0 57.6L825.7 57.1L826.4 56.6L827.1 56.2L827.8 55.8L828.6 55.4L829.3 55.1L830.0 54.8L830.7 54.5L831.5 54.3L832.2 54.2L832.9 54.0L833.6 53.9L834.4 53.9L835.1 53.9L835.8 53.9L836.5 53.9L837.3 54.0L838.0 54.2L838.7 54.3L839.4 54.6L840.2 54.8L840.9 55.1L841.6 55.4L842.3 55.8L843.1 56.2L843.8 56.7L844.5 57.2L845.2 57.7L845.9 58.3L846.7 59.0L847.4 59.6L848.1 60.4L848.8 61.1L849.6 61.9L850.3 62.8L851.0 63.7L851.7 64.6L852.5 65.6L853.2 66.7L853.9 67.8L854.6 68.9L855.4 70.1L856.1 71.3L856.8 72.6L857.5 74.0L858.3 75.4L859.0 76.8L859.7 78.3L860.4 79.9L861.2 81.5L861.9 83.1L862.6 84.8L863.3 86.6L864.0 88.4L864.8 90.3L865.5 92.2L866.2 94.1L866.9 96.2L867.7 98.2L868.4 100.4L869.1 102.5L869.8 104.8L870.6 107.0L871.3 109.4L872.0 111.7L872.7 114.2L873.5 116.6L874.2 119.1L874.9 121.7L875.6 124.3L876.4 126.9L877.1 129.6L877.8 132.3L878.5 135.1L879.3 137.9L880.0 140.7L880.7 143.6L881.4 146.5L882.1 149.4L882.9 152.4L883.6 155.4L884.3 158.4L885.0 161.4L885.8 164.5L886.5 167.5L887.2 170.6L887.9 173.7L888.7 176.8L889.4 179.9L890.1 183.0L890.8 186.1L891.6 189.3L892.3 192.4L893.0 195.5L893.7 198.6L894.5 201.7L895.2 204.7L895.9 207.8L896.6 210.8L897.4 213.9L898.1 216.8L898.8 219.8L899.5 222.7L900.2 225.6L901.0 228.5L901.7 231.3L902.4 234.1L903.1 236.8L903.9 239.5L904.6 242.1L905.3 244.7L906.0 247.3L906.8 249.7L907.5 252.1L908.2 254.5L908.9 256.8L909.7 259.0L910.4 261.1L911.1 263.2L911.8 265.2L912.6 267.1L913.3 268.9L914.0 270.7L914.7 272.4L915.5 274.0L916.2 275.5L916.9 276.9L917.6 278.2L918.3 279.5L919.1 280.6L919.8 281.7L920.5 282.7L921.2 283.6L922.0 284.3L922.7 285.0L923.4 285.6L924.1 286.1L924.9 286.5L925.6 286.8L926.3 287.0L927.0 287.2L927.8 287.2L928.5 287.1L929.2 286.9L929.9 286.7L930.7 286.3L931.4 285.9L932.1 285.4L932.8 284.7L933.6 284.0L934.3 283.2L935.0 282.3L935.7 281.4L936.4 280.3L937.2 279.2L937.9 278.0L938.6 276.7L939.3 275.3L940.1 273.8L940.8 272.3L941.5 270.7L942.2 269.1L943.0 267.3L943.7 265.5L944.4 263.7L945.1 261.7L945.9 259.8L946.6 257.7L947.3 255.6L948.0 253.5L948.8 251.3L949.5 249.1L950.2 246.8L950.9 244.4L951.7 242.1L952.4 239.7L953.1 237.2L953.8 234.7L954.5 232.2L955.3 229.7L956.0 227.1L956.7 224.5L957.4 221.9L958.2 219.3L958.9 216.7L959.6 214.0L960.3 211.4L961.1 208.7L961.8 206.0L962.5 203.3L963.2 200.6L964.0 197.9L964.7 195.2L965.4 192.6L966.1 189.9L966.9 187.2L967.6 184.5L968.3 181.9L969.0 179.3L969.8 176.6L970.5 174.0L971.2 171.4L971.9 168.9L972.6 166.3L973.4 163.8L974.1 161.3L974.8 158.8L975.5 156.3L976.3 153.9L977.0 151.5L977.7 149.1L978.4 146.8L979.2 144.4L979.9 142.2L980.6 139.9L981.3 137.7L982.1 135.5L982.8 133.4L983.5 131.3L984.2 129.2L985.0 127.2L985.7 125.2L986.4 123.2L987.1 121.3L987.9 119.4L988.6 117.6L989.3 115.8L990.0 114.0L990.7 112.3L991.5 110.7L992.2 109.0L992.9 107.5L993.6 105.9L994.4 104.4L995.1 103.0L995.8 101.6L996.5 100.2L997.3 98.9L998.0 97.6L998.7 96.4L999.4 95.2L1000.2 94.1L1000.9 93.0L1001.6 92.0L1002.3 91.0L1003.1 90.1L1003.8 89.2L1004.5 88.3L1005.2 87.5L1006.0 86.8L1006.7 86.1L1007.4 85.5L1008.1 84.9L1008.8 84.4L1009.6 83.9L1010.3 83.4L1011.0 83.1L1011.7 82.7L1012.5 82.5L1013.2 82.3L1013.9 82.1L1014.6 82.0L1015.4 81.9L1016.1 82.0L1016.8 82.0L1017.5 82.1L1018.3 82.3L1019.0 82.6L1019.7 82.9L1020.4 83.2L1021.2 83.6L1021.9 84.1L1022.6 84.7L1023.3 85.3L1024.1 86.0L1024.8 86.7L1025.5 87.5L1026.2 88.3L1026.9 89.3L1027.7 90.2L1028.4 91.3L1029.1 92.4L1029.8 93.6L1030.6 94.8L1031.3 96.1L1032.0 97.5L1032.7 98.9L1033.5 100.4L1034.2 102.0L1034.9 103.6L1035.6 105.3L1036.4 107.0L1037.1 108.8L1037.8 110.7L1038.5 112.6L1039.3 114.6L1040.0 116.7L1040.7 118.8L1041.4 121.0L1042.2 123.2L1042.9 125.5L1043.6 127.8L1044.3 130.2L1045.0 132.7L1045.8 135.2L1046.5 137.7L1047.2 140.3L1047.9 143.0L1048.7 145.7L1049.4 148.5L1050.1 151.3L1050.8 154.1L1051.6 157.0L1052.3 159.9L1053.0 162.9L1053.7 165.9L1054.5 168.9L1055.2 172.0L1055.9 175.1L1056.6 178.2L1057.4 181.4L1058.1 184.6L1058.8 187.8L1059.5 191.0L1060.3 194.3L1061.0 197.5L1061.7 200.8L1062.4 204.2L1063.1 207.5L1063.9 210.8L1064.6 214.1L1065.3 217.5L1066.0 220.8L1066.8 224.2L1067.5 227.5L1068.2 230.9L1068.9 234.2L1069.7 237.5L1070.4 240.9L1071.1 244.2L1071.8 247.5L1072.6 250.7L1073.3 254.0L1074.0 257.2L1074.7 260.4L1075.5 263.6L1076.2 266.8L1076.9 269.9L1077.6 273.0L1078.4 276.0L1079.1 279.0L1079.8 282.0L1080.5 284.9L1081.2 287.8L1082.0 290.7L1082.7 293.5L1083.4 296.2L1084.1 298.9L1084.9 301.5L1085.6 304.1L1086.3 306.6L1087.0 309.1L1087.8 311.5L1088.5 313.9L1089.2 316.1L1089.9 318.4L1090.7 320.5L1091.4 322.6L1092.1 324.6L1092.8 326.5L1093.6 328.4L1094.3 330.2L1095.0 331.9L1095.7 333.6L1096.5 335.2L1097.2 336.7L1097.9 338.1L1098.6 339.4L1099.3 340.7L1100.1 341.9L1100.8 343.0L1101.5 344.1L1102.2 345.0L1103.0 345.9L1103.7 346.7L1104.4 347.4L1105.1 348.0L1105.9 348.6L1106.6 349.1L1107.3 349.5L1108.0 349.8L1108.8 350.0L1109.5 350.2L1110.2 350.3L1110.9 350.3L1111.7 350.2L1112.4 350.1L1113.1 349.8L1113.8 349.5L1114.6 349.2L1115.3 348.7L1116.0 348.2L1116.7 347.6L1117.4 347.0L1118.2 346.2L1118.9 345.4L1119.6 344.6L1120.3 343.7L1121.1 342.7L1121.8 341.6L1122.5 340.5L1123.2 339.3L1124.0 338.0L1124.7 336.7L1125.4 335.4L1126.1 333.9L1126.9 332.5L1127.6 330.9L1128.3 329.3L1129.0 327.7L1129.8 326.0L1130.5 324.3L1131.2 322.5L1131.9 320.6L1132.7 318.7L1133.4 316.8L1134.1 314.8L1134.8 312.8L1135.5 310.8L1136.3 308.7L1137.0 306.6L1137.7 304.4L1138.4 302.2L1139.2 300.0L1139.9 297.7L1140.6 295.4L1141.3 293.1L1142.1 290.8L1142.8 288.4L1143.5 286.0L1144.2 283.6L1145.0 281.2L1145.7 278.7L1146.4 276.2L1147.1 273.7L1147.9 271.2L1148.6 268.7L1149.3 266.2L1150.0 263.7L1150.8 261.1L1151.5 258.6L1152.2 256.0L1152.9 253.5L1153.6 250.9L1154.4 248.4L1155.1 245.8L1155.8 243.3L1156.5 240.7L1157.3 238.2L1158.0 235.6L1158.7 233.1L1159.4 230.6L1160.2 228.1L1160.9 225.6L1161.6 223.1L1162.3 220.7L1163.1 218.2L1163.8 215.8L1164.5 213.4L1165.2 211.0L1166.0 208.7L1166.7 206.4L1167.4 204.1L1168.1 201.8L1168.9 199.6L1169.6 197.4L1170.3 195.2L1171.0 193.1L1171.7 191.0L1172.5 189.0L1173.2 187.0L1173.9 185.0L1174.6 183.1L1175.4 181.2L1176.1 179.4L1176.8 177.6L1177.5 175.8L1178.3 174.1L1179.0 172.5L1179.7 170.9L1180.4 169.4L1181.2 167.9L1181.9 166.5L1182.6 165.2L1183.3 163.9L1184.1 162.6L1184.8 161.5L1185.5 160.4L1186.2 159.3L1187.0 158.3L1187.7 157.4L1188.4 156.6L1189.1 155.8L1189.8 155.1L1190.6 154.5L1191.3 153.9L1192.0 153.4L1192.7 153.0L1193.5 152.6L1194.2 152.4L1194.9 152.2L1195.6 152.0L1196.4 152.0L1197.1 152.0L1197.8 152.1L1198.5 152.3L1199.3 152.5L1200.0 152.8L1200.7 153.3L1201.4 153.7L1202.2 154.3L1202.9 154.9L1203.6 155.7L1204.3 156.4L1205.1 157.3L1205.8 158.3L1206.5 159.3L1207.2 160.4L1207.9 161.6L1208.7 162.8L1209.4 164.1L1210.1 165.5L1210.8 167.0L1211.6 168.5L1212.3 170.1L1213.0 171.8L1213.7 173.5L1214.5 175.3L1215.2 177.2L1215.9 179.1L1216.6 181.1L1217.4 183.1L1218.1 185.2L1218.8 187.4L1219.5 189.6L1220.3 191.9L1221.0 194.3L1221.7 196.6L1222.4 199.1L1223.2 201.6L1223.9 204.1L1224.6 206.7L1225.3 209.3L1226.0 212.0L1226.8 214.7L1227.5 217.4L1228.2 220.2L1228.9 223.0L1229.7 225.8L1230.4 228.7L1231.1 231.6L1231.8 234.5L1232.6 237.5L1233.3 240.4L1234.0 243.4L1234.7 246.4L1235.5 249.4L1236.2 252.5L1236.9 255.5L1237.6 258.6L1238.4 261.7L1239.1 264.7L1239.8 267.8L1240.5 270.9L1241.3 274.0L1242.0 277.2L1242.7 280.3L1243.4 283.5L1244.1 286.6L1244.9 289.7L1245.6 292.9L1246.3 296.0L1247.0 299.2L1247.8 302.3L1248.5 305.4L1249.2 308.4L1249.9 311.5L1250.7 314.5L1251.4 317.5L1252.1 320.4L1252.8 323.3L1253.6 326.2L1254.3 329.0L1255.0 331.8L1255.7 334.5L1256.5 337.2L1257.2 339.8L1257.9 342.3L1258.6 344.8L1259.4 347.2L1260.1 349.6L1260.8 351.9L1261.5 354.1L1262.2 356.3L1263.0 358.4L1263.7 360.4L1264.4 362.4L1265.1 364.3L1265.9 366.1L1266.6 367.9L1267.3 369.6L1268.0 371.2L1268.8 372.8L1269.5 374.3L1270.2 375.7L1270.9 377.1L1271.7 378.5L1272.4 379.8L1273.1 381.0L1273.8 382.2L1274.6 383.3L1275.3 384.4L1276.0 385.4L1276.7 386.4L1277.5 387.3L1278.2 388.1L1278.9 389.0L1279.6 389.7L1280.3 390.4L1281.1 391.1L1281.8 391.8L1282.5 392.4L1283.2 392.9L1284.0 393.4L1284.7 393.9L1285.4 394.3L1286.1 394.7L1286.9 395.1L1287.6 395.4L1288.3 395.7L1289.0 396.0L1289.8 396.2L1290.5 396.4L1291.2 396.5L1291.9 396.7L1292.7 396.8L1293.4 396.8L1294.1 396.9L1294.8 396.9L1295.6 396.9L1296.3 396.8L1297.0 396.7L1297.7 396.6L1298.4 396.5L1299.2 396.3L1299.9 396.1L1300.6 395.8L1301.3 395.6L1302.1 395.3L1302.8 394.9L1303.5 394.6L1304.2 394.1L1305.0 393.7L1305.7 393.2L1306.4 392.7L1307.1 392.2L1307.9 391.6L1308.6 391.0L1309.3 390.3L1310.0 389.6L1310.8 388.9L1311.5 388.1L1312.2 387.3L1312.9 386.5L1313.7 385.6L1314.4 384.7L1315.1 383.7L1315.8 382.7L1316.5 381.7L1317.3 380.6L1318.0 379.5L1318.7 378.3L1319.4 377.1L1320.2 375.8L1320.9 374.6L1321.6 373.2L1322.3 371.9L1323.1 370.5L1323.8 369.0L1324.5 367.6L1325.2 366.0L1326.0 364.5L1326.7 362.9L1327.4 361.3L1328.1 359.6L1328.9 357.9L1329.6 356.2L1330.3 354.4L1331.0 352.6L1331.8 350.8L1332.5 348.9L1333.2 347.0L1333.9 345.1L1334.6 343.2L1335.4 341.2L1336.1 339.2L1336.8 337.2L1337.5 335.2L1338.3 333.1L1339.0 331.0L1339.7 328.9L1340.4 326.8L1341.2 324.7L1341.9 322.6L1342.6 320.5L1343.3 318.4L1344.1 316.2L1344.8 314.1L1345.5 312.0L1346.2 309.9L1347.0 307.8L1347.7 305.7L1348.4 303.6L1349.1 301.5L1349.9 299.4L1350.6 297.4L1351.3 295.3L1352.0 293.3L1352.7 291.3L1353.5 289.4L1354.2 287.4L1354.9 285.5L1355.6 283.6L1356.4 281.7L1357.1 279.9L1357.8 278.1L1358.5 276.4L1359.3 274.7L1360.0 273.0L1360.7 271.4L1361.4 269.8L1362.2 268.2L1362.9 266.7L1363.6 265.3L1364.3 263.9L1365.1 262.6L1365.8 261.3L1366.5 260.1L1367.2 259.0L1368.0 257.9L1368.7 256.9L1369.4 255.9" stroke="#ff0000"/>
<path d="M790.2 137.3L790.9 131.8L791.6 126.6L792.4 121.4L793.1 116.4L793.8 111.6L794.5 107.0L795.3 102.6L796.0 98.3L796.7 94.3L797.4 90.4L798.2 86.8L798.9 83.3L799.6 80.1L800.3 77.0L801.1 74.2L801.8 71.5L802.5 69.1L803.2 66.8L804.0 64.7L804.7 62.8L805.4 61.1L806.1 59.5L806.9 58.1L807.6 56.9L808.3 55.9L809.0 55.0L809.7 54.3L810.5 53.7L811.2 53.3L811.9 53.0L812.6 52.9L813.4 52.9L814.1 53.1L814.8 53.4L815.5 53.9L816.3 54.5L817.0 55.3L817.7 56.3L818.4 57.4L819.2 58.7L819.9 60.2L820.6 61.8L821.3 63.6L822.1 65.6L822.8 67.8L823.5 70.2L824.2 72.8L825.0 75.6L825.7 78.6L826.4 81.8L827.1 85.1L827.8 88.7L828.6 92.5L829.3 96.5L830.0 100.7L830.7 105.1L831.5 109.7L832.2 114.5L832.9 119.5L833.6 124.6L834.4 129.9L835.1 135.3L835.8 140.9L836.5 146.6L837.3 152.4L838.0 158.4L838.7 164.3L839.4 170.4L840.2 176.4L840.9 182.5L841.6 188.6L842.3 194.7L843.1 200.7L843.8 206.7L844.5 212.5L845.2 218.2L845.9 223.8L846.7 229.3L847.4 234.5L848.1 239.5L848.8 244.4L849.6 248.9L850.3 253.2L851.0 257.2L851.7 260.9L852.5 264.3L853.2 267.3L853.9 270.0L854.6 272.3L855.4 274.2L856.1 275.8L856.8 276.9L857.5 277.7L858.3 278.1L859.0 278.1L859.7 277.6L860.4 276.8L861.2 275.6L861.9 274.0L862.6 272.1L863.3 269.7L864.0 267.0L864.8 264.0L865.5 260.7L866.2 257.0L866.9 253.0L867.7 248.8L868.4 244.3L869.1 239.6L869.8 234.7L870.6 229.5L871.3 224.2L872.0 218.8L872.7 213.2L873.5 207.5L874.2 201.8L874.9 196.0L875.6 190.1L876.4 184.2L877.1 178.4L877.8 172.5L878.5 166.7L879.3 161.0L880.0 155.3L880.7 149.7L881.4 144.2L882.1 138.9L882.9 133.7L883.6 128.6L884.3 123.7L885.0 118.9L885.8 114.3L886.5 109.9L887.2 105.7L887.9 101.7L888.7 97.8L889.4 94.2L890.1 90.7L890.8 87.5L891.6 84.4L892.3 81.5L893.0 78.9L893.7 76.4L894.5 74.1L895.2 72.0L895.9 70.1L896.6 68.3L897.4 66.8L898.1 65.4L898.8 64.2L899.5 63.2L900.2 62.3L901.0 61.6L901.7 61.1L902.4 60.8L903.1 60.6L903.9 60.6L904.6 60.7L905.3 61.1L906.0 61.6L906.8 62.2L907.5 63.1L908.2 64.1L908.9 65.3L909.7 66.7L910.4 68.2L911.1 70.0L911.8 71.9L912.6 74.0L913.3 76.4L914.0 78.9L914.7 81.6L915.5 84.5L916.2 87.7L916.9 91.0L917.6 94.5L918.3 98.3L919.1 102.2L919.8 106.4L920.5 110.7L921.2 115.2L922.0 119.9L922.7 124.8L923.4 129.9L924.1 135.1L924.9 140.5L925.6 146.0L926.3 151.7L927.0 157.4L927.8 163.3L928.5 169.3L929.2 175.3L929.9 181.4L930.7 187.5L931.4 193.6L932.1 199.7L932.8 205.8L933.6 211.8L934.3 217.8L935.0 223.7L935.7 229.4L936.4 235.1L937.2 240.6L937.9 245.9L938.6 251.0L939.3 255.9L940.1 260.5L940.8 264.9L941.5 269.0L942.2 272.9L943.0 276.4L943.7 279.6L944.4 282.5L945.1 285.0L945.9 287.2L946.6 289.0L947.3 290.4L948.0 291.5L948.8 292.2L949.5 292.5L950.2 292.4L950.9 292.0L951.7 291.2L952.4 290.0L953.1 288.5L953.8 286.6L954.5 284.4L955.3 281.8L956.0 278.9L956.7 275.8L957.4 272.3L958.2 268.6L958.9 264.6L959.6 260.3L960.3 255.8L961.1 251.2L961.8 246.3L962.5 241.3L963.2 236.2L964.0 230.9L964.7 225.5L965.4 220.0L966.1 214.4L966.9 208.8L967.6 203.2L968.3 197.6L969.0 191.9L969.8 186.3L970.5 180.7L971.2 175.2L971.9 169.7L972.6 164.4L973.4 159.1L974.1 153.9L974.8 148.8L975.5 143.9L976.3 139.1L977.0 134.4L977.7 129.9L978.4 125.6L979.2 121.4L979.9 117.4L980.6 113.5L981.3 109.9L982.1 106.4L982.8 103.1L983.5 100.0L984.2 97.1L985.0 94.3L985.7 91.8L986.4 89.5L987.1 87.3L987.9 85.4L988.6 83.6L989.3 82.1L990.0 80.8L990.7 79.6L991.5 78.7L992.2 78.0L992.9 77.4L993.6 77.1L994.4 77.0L995.1 77.1L995.8 77.5L996.5 78.0L997.3 78.8L998.0 79.7L998.7 80.9L999.4 82.3L1000.2 84.0L1000.9 85.9L1001.6 88.0L1002.3 90.3L1003.1 92.8L1003.8 95.6L1004.5 98.6L1005.2 101.8L1006.0 105.3L1006.7 108.9L1007.4 112.8L1008.1 116.9L1008.8 121.2L1009.6 125.7L1010.3 130.4L1011.0 135.3L1011.7 140.4L1012.5 145.6L1013.2 151.0L1013.9 156.6L1014.6 162.3L1015.4 168.1L1016.1 174.0L1016.8 180.1L1017.5 186.2L1018.3 192.4L1019.0 198.6L1019.7 204.9L1020.4 211.2L1021.2 217.4L1021.9 223.7L1022.6 229.9L1023.3 236.1L1024.1 242.2L1024.8 248.2L1025.5 254.1L1026.2 259.9L1026.9 265.5L1027.7 271.0L1028.4 276.3L1029.1 281.3L1029.8 286.2L1030.6 290.8L1031.3 295.2L1032.0 299.3L1032.7 303.2L1033.5 306.7L1034.2 310.0L1034.9 312.9L1035.6 315.6L1036.4 317.9L1037.1 319.9L1037.8 321.5L1038.5 322.9L1039.3 323.8L1040.0 324.5L1040.7 324.7L1041.4 324.7L1042.2 324.3L1042.9 323.5L1043.6 322.5L1044.3 321.1L1045.0 319.4L1045.8 317.4L1046.5 315.1L1047.2 312.4L1047.9 309.6L1048.7 306.4L1049.4 303.0L1050.1 299.3L1050.8 295.4L1051.6 291.2L1052.3 286.9L1053.0 282.4L1053.7 277.7L1054.5 272.8L1055.2 267.8L1055.9 262.6L1056.6 257.4L1057.4 252.0L1058.1 246.6L1058.8 241.1L1059.5 235.5L1060.3 229.9L1061.0 224.2L1061.7 218.6L1062.4 213.0L1063.1 207.3L1063.9 201.8L1064.6 196.2L1065.3 190.7L1066.0 185.3L1066.8 180.0L1067.5 174.8L1068.2 169.7L1068.9 164.7L1069.7 159.9L1070.4 155.1L1071.1 150.6L1071.8 146.2L1072.6 141.9L1073.3 137.9L1074.0 134.0L1074.7 130.4L1075.5 126.9L1076.2 123.7L1076.9 120.6L1077.6 117.8L1078.4 115.3L1079.1 112.9L1079.8 110.8L1080.5 109.0L1081.2 107.4L1082.0 106.1L1082.7 105.0L1083.4 104.2L1084.1 103.6L1084.9 103.4L1085.6 103.4L1086.3 103.6L1087.0 104.2L1087.8 105.0L1088.5 106.1L1089.2 107.5L1089.9 109.1L1090.7 111.1L1091.4 113.3L1092.1 115.7L1092.8 118.5L1093.6 121.4L1094.3 124.7L1095.0 128.2L1095.7 131.9L1096.5 135.9L1097.2 140.1L1097.9 144.5L1098.6 149.1L1099.3 153.9L1100.1 158.9L1100.8 164.1L1101.5 169.5L1102.2 175.0L1103.0 180.7L1103.7 186.5L1104.4 192.4L1105.1 198.4L1105.9 204.5L1106.6 210.6L1107.3 216.8L1108.0 223.1L1108.8 229.4L1109.5 235.7L1110.2 241.9L1110.9 248.2L1111.7 254.4L1112.4 260.6L1113.1 266.6L1113.8 272.6L1114.6 278.5L1115.3 284.3L1116.0 290.0L1116.7 295.4L1117.4 300.8L1118.2 305.9L1118.9 310.9L1119.6 315.7L1120.3 320.2L1121.1 324.5L1121.8 328.6L1122.5 332.5L1123.2 336.1L1124.0 339.4L1124.7 342.5L1125.4 345.3L1126.1 347.8L1126.9 350.0L1127.6 352.0L1128.3 353.6L1129.0 355.0L1129.8 356.0L1130.5 356.8L1131.2 357.2L1131.9 357.4L1132.7 357.2L1133.4 356.8L1134.1 356.1L1134.8 355.1L1135.5 353.8L1136.3 352.2L1137.0 350.4L1137.7 348.3L1138.4 345.9L1139.2 343.3L1139.9 340.5L1140.6 337.4L1141.3 334.1L1142.1 330.6L1142.8 326.8L1143.5 322.9L1144.2 318.8L1145.0 314.5L1145.7 310.0L1146.4 305.4L1147.1 300.7L1147.9 295.8L1148.6 290.8L1149.3 285.7L1150.0 280.5L1150.8 275.2L1151.5 269.8L1152.2 264.4L1152.9 259.0L1153.6 253.5L1154.4 248.0L1155.1 242.6L1155.8 237.1L1156.5 231.6L1157.3 226.2L1158.0 220.9L1158.7 215.6L1159.4 210.4L1160.2 205.3L1160.9 200.3L1161.6 195.4L1162.3 190.7L1163.1 186.1L1163.8 181.7L1164.5 177.4L1165.2 173.4L1166.0 169.5L1166.7 165.9L1167.4 162.4L1168.1 159.2L1168.9 156.2L1169.6 153.5L1170.3 151.1L1171.0 148.9L1171.7 147.0L1172.5 145.3L1173.2 144.0L1173.9 142.9L1174.6 142.2L1175.4 141.7L1176.1 141.6L1176.8 141.7L1177.5 142.2L1178.3 143.0L1179.0 144.0L1179.7 145.4L1180.4 147.1L1181.2 149.1L1181.9 151.4L1182.6 154.0L1183.3 156.8L1184.1 160.0L1184.8 163.4L1185.5 167.0L1186.2 170.9L1187.0 175.1L1187.7 179.4L1188.4 184.0L1189.1 188.8L1189.8 193.8L1190.6 198.9L1191.3 204.2L1192.0 209.7L1192.7 215.3L1193.5 221.0L1194.2 226.8L1194.9 232.6L1195.6 238.6L1196.4 244.5L1197.1 250.6L1197.8 256.6L1198.5 262.6L1199.3 268.6L1200.0 274.6L1200.7 280.5L1201.4 286.4L1202.2 292.2L1202.9 297.9L1203.6 303.5L1204.3 309.0L1205.1 314.4L1205.8 319.6L1206.5 324.7L1207.2 329.6L1207.9 334.3L1208.7 338.9L1209.4 343.3L1210.1 347.5L1210.8 351.5L1211.6 355.2L1212.3 358.8L1213.0 362.2L1213.7 365.3L1214.5 368.2L1215.2 370.8L1215.9 373.3L1216.6 375.5L1217.4 377.4L1218.1 379.1L1218.8 380.6L1219.5 381.8L1220.3 382.8L1221.0 383.6L1221.7 384.1L1222.4 384.3L1223.2 384.3L1223.9 384.1L1224.6 383.7L1225.3 383.0L1226.0 382.1L1226.8 381.0L1227.5 379.6L1228.2 378.0L1228.9 376.2L1229.7 374.2L1230.4 372.0L1231.1 369.6L1231.8 367.0L1232.6 364.2L1233.3 361.2L1234.0 358.0L1234.7 354.7L1235.5 351.1L1236.2 347.5L1236.9 343.7L1237.6 339.7L1238.4 335.6L1239.1 331.4L1239.8 327.0L1240.5 322.6L1241.3 318.1L1242.0 313.5L1242.7 308.8L1243.4 304.1L1244.1 299.3L1244.9 294.5L1245.6 289.7L1246.3 284.8L1247.0 279.9L1247.8 275.0L1248.5 270.2L1249.2 265.3L1249.9 260.5L1250.7 255.7L1251.4 250.9L1252.1 246.2L1252.8 241.6L1253.6 237.1L1254.3 232.7L1255.0 228.4L1255.7 224.2L1256.5 220.1L1257.2 216.2L1257.9 212.5L1258.6 209.0L1259.4 205.7L1260.1 202.6L1260.8 199.8L1261.5 197.2L1262.2 194.9L1263.0 192.9L1263.7 191.2L1264.4 189.8L1265.1 188.7L1265.9 188.0L1266.6 187.6L1267.3 187.5L1268.0 187.8L1268.8 188.5L1269.5 189.5L1270.2 190.9L1270.9 192.6L1271.7 194.6L1272.4 197.0L1273.1 199.8L1273.8 202.8L1274.6 206.2L1275.3 209.9L1276.0 213.8L1276.7 218.0L1277.5 222.5L1278.2 227.2L1278.9 232.1L1279.6 237.2L1280.3 242.5L1281.1 248.0L1281.8 253.5L1282.5 259.2L1283.2 264.9L1284.0 270.7L1284.7 276.6L1285.4 282.4L1286.1 288.2L1286.9 294.0L1287.6 299.8L1288.3 305.5L1289.0 311.0L1289.8 316.5L1290.5 321.8L1291.2 327.0L1291.9 332.1L1292.7 337.0L1293.4 341.7L1294.1 346.2L1294.8 350.5L1295.6 354.7L1296.3 358.6L1297.0 362.3L1297.7 365.9L1298.4 369.2L1299.2 372.4L1299.9 375.4L1300.6 378.1L1301.3 380.7L1302.1 383.2L1302.8 385.4L1303.5 387.5L1304.2 389.4L1305.0 391.2L1305.7 392.8L1306.4 394.2L1307.1 395.5L1307.9 396.7L1308.6 397.7L1309.3 398.6L1310.0 399.3L1310.8 400.0L1311.5 400.5L1312.2 400.5L1312.9 400.5L1313.7 400.5L1314.4 400.5L1315.1 400.5L1315.8 400.5L1316.5 400.5L1317.3 400.3L1318.0 399.8L1318.7 399.1L1319.4 398.3L1320.2 397.3L1320.9 396.2L1321.6 395.0L1322.3 393.6L1323.1 392.1L1323.8 390.5L1324.5 388.6L1325.2 386.7L1326.0 384.5L1326.7 382.3L1327.4 379.8L1328.1 377.2L1328.9 374.4L1329.6 371.5L1330.3 368.3L1331.0 365.1L1331.8 361.7L1332.5 358.1L1333.2 354.4L1333.9 350.5L1334.6 346.5L1335.4 342.4L1336.1 338.2L1336.8 333.9L1337.5 329.5L1338.3 325.0L1339.0 320.5L1339.7 315.9L1340.4 311.2L1341.2 306.6L1341.9 302.0L1342.6 297.4L1343.3 292.9L1344.1 288.4L1344.8 284.0L1345.5 279.7L1346.2 275.5L1347.0 271.4L1347.7 267.5L1348.4 263.8L1349.1 260.2L1349.9 256.9L1350.6 253.8L1351.3 250.9L1352.0 248.3L1352.7 245.9L1353.5 243.8L1354.2 242.0L1354.9 240.5L1355.6 239.3L1356.4 238.4L1357.1 237.9L1357.8 237.6L1358.5 237.7L1359.3 238.2L1360.0 238.9L1360.7 240.0L1361.4 241.4L1362.2 243.1L1362.9 245.2L1363.6 247.5L1364.3 250.2L1365.1 253.1L1365.8 256.3L1366.5 259.7L1367.2 263.4L1368.0 267.3L1368.7 271.4L1369.4 275.7" stroke="#00ff00" stroke-dasharray="18.6 6.16" stroke-dashoffset="0"/>
<path d="M790.2 137.3L790.9 129.2L791.6 121.4L792.4 114.0L793.1 107.0L793.8 100.5L794.5 94.3L795.3 88.6L796.0 83.3L796.7 78.5L797.4 74.2L798.2 70.3L798.9 66.8L799.6 63.7L800.3 61.1L801.1 58.8L801.8 56.9L802.5 55.4L803.2 54.3L804.0 53.5L804.7 53.0L805.4 52.9L806.1 53.1L806.9 53.6L807.6 54.5L808.3 55.8L809.0 57.4L809.7 59.3L810.5 61.7L811.2 64.5L811.9 67.6L812.6 71.2L813.4 75.3L814.1 79.8L814.8 84.7L815.5 90.1L816.3 96.0L817.0 102.3L817.7 109.0L818.4 116.2L819.2 123.7L819.9 131.6L820.6 139.9L821.3 148.4L822.1 157.1L822.8 166.0L823.5 175.1L824.2 184.1L825.0 193.2L825.7 202.1L826.4 210.9L827.1 219.4L827.8 227.6L828.6 235.3L829.3 242.6L830.0 249.3L830.7 255.3L831.5 260.7L832.2 265.4L832.9 269.2L833.6 272.2L834.4 274.4L835.1 275.6L835.8 276.0L836.5 275.5L837.3 274.0L838.0 271.7L838.7 268.5L839.4 264.6L840.2 259.8L840.9 254.3L841.6 248.2L842.3 241.4L843.1 234.1L843.8 226.4L844.5 218.2L845.2 209.8L845.9 201.1L846.7 192.3L847.4 183.4L848.1 174.4L848.8 165.6L849.6 156.8L850.3 148.3L851.0 139.9L851.7 131.9L852.5 124.2L853.2 116.8L853.9 109.9L854.6 103.3L855.4 97.2L856.1 91.5L856.8 86.3L857.5 81.5L858.3 77.1L859.0 73.2L859.7 69.8L860.4 66.7L861.2 64.1L861.9 61.8L862.6 60.0L863.3 58.5L864.0 57.4L864.8 56.7L865.5 56.3L866.2 56.2L866.9 56.6L867.7 57.3L868.4 58.3L869.1 59.8L869.8 61.6L870.6 63.8L871.3 66.4L872.0 69.5L872.7 72.9L873.5 76.9L874.2 81.2L874.9 86.0L875.6 91.3L876.4 97.0L877.1 103.2L877.8 109.8L878.5 116.8L879.3 124.2L880.0 132.0L880.7 140.1L881.4 148.6L882.1 157.2L882.9 166.1L883.6 175.1L884.3 184.2L885.0 193.3L885.8 202.3L886.5 211.2L887.2 219.8L887.9 228.2L888.7 236.2L889.4 243.8L890.1 250.9L890.8 257.4L891.6 263.2L892.3 268.4L893.0 272.8L893.7 276.4L894.5 279.2L895.2 281.1L895.9 282.2L896.6 282.4L897.4 281.7L898.1 280.2L898.8 277.8L899.5 274.5L900.2 270.5L901.0 265.8L901.7 260.3L902.4 254.2L903.1 247.5L903.9 240.3L904.6 232.7L905.3 224.7L906.0 216.4L906.8 207.8L907.5 199.1L908.2 190.4L908.9 181.6L909.7 172.8L910.4 164.2L911.1 155.7L911.8 147.5L912.6 139.5L913.3 131.9L914.0 124.5L914.7 117.6L915.5 111.0L916.2 104.9L916.9 99.1L917.6 93.8L918.3 89.0L919.1 84.6L919.8 80.6L920.5 77.1L921.2 73.9L922.0 71.3L922.7 69.0L923.4 67.1L924.1 65.7L924.9 64.6L925.6 63.9L926.3 63.6L927.0 63.7L927.8 64.2L928.5 65.1L929.2 66.4L929.9 68.2L930.7 70.3L931.4 72.8L932.1 75.8L932.8 79.2L933.6 83.1L934.3 87.4L935.0 92.2L935.7 97.4L936.4 103.1L937.2 109.2L937.9 115.8L938.6 122.8L939.3 130.2L940.1 137.9L940.8 146.0L941.5 154.4L942.2 163.1L943.0 171.9L943.7 180.9L944.4 190.0L945.1 199.1L945.9 208.2L946.6 217.2L947.3 226.0L948.0 234.6L948.8 242.8L949.5 250.6L950.2 258.0L950.9 264.9L951.7 271.2L952.4 276.8L953.1 281.7L953.8 285.9L954.5 289.3L955.3 291.9L956.0 293.7L956.7 294.7L957.4 294.7L958.2 294.0L958.9 292.4L959.6 290.0L960.3 286.8L961.1 282.9L961.8 278.2L962.5 272.9L963.2 267.0L964.0 260.5L964.7 253.5L965.4 246.1L966.1 238.3L966.9 230.3L967.6 221.9L968.3 213.5L969.0 204.9L969.8 196.3L970.5 187.7L971.2 179.1L971.9 170.7L972.6 162.5L973.4 154.5L974.1 146.8L974.8 139.3L975.5 132.2L976.3 125.4L977.0 119.1L977.7 113.1L978.4 107.5L979.2 102.3L979.9 97.6L980.6 93.3L981.3 89.5L982.1 86.1L982.8 83.1L983.5 80.6L984.2 78.6L985.0 77.0L985.7 75.9L986.4 75.2L987.1 75.0L987.9 75.3L988.6 76.0L989.3 77.2L990.0 78.9L990.7 81.1L991.5 83.8L992.2 86.9L992.9 90.6L993.6 94.7L994.4 99.3L995.1 104.4L995.8 110.0L996.5 116.1L997.3 122.6L998.0 129.5L998.7 136.9L999.4 144.6L1000.2 152.7L1000.9 161.1L1001.6 169.7L1002.3 178.6L1003.1 187.7L1003.8 196.9L1004.5 206.1L1005.2 215.4L1006.0 224.6L1006.7 233.7L1007.4 242.6L1008.1 251.3L1008.8 259.6L1009.6 267.6L1010.3 275.2L1011.0 282.3L1011.7 288.8L1012.5 294.7L1013.2 300.0L1013.9 304.6L1014.6 308.5L1015.4 311.6L1016.1 314.0L1016.8 315.6L1017.5 316.4L1018.3 316.4L1019.0 315.6L1019.7 314.0L1020.4 311.7L1021.2 308.6L1021.9 304.8L1022.6 300.4L1023.3 295.3L1024.1 289.6L1024.8 283.4L1025.5 276.7L1026.2 269.6L1026.9 262.0L1027.7 254.2L1028.4 246.1L1029.1 237.8L1029.8 229.3L1030.6 220.7L1031.3 212.1L1032.0 203.4L1032.7 194.9L1033.5 186.4L1034.2 178.1L1034.9 170.0L1035.6 162.1L1036.4 154.5L1037.1 147.2L1037.8 140.3L1038.5 133.7L1039.3 127.5L1040.0 121.7L1040.7 116.4L1041.4 111.5L1042.2 107.1L1042.9 103.2L1043.6 99.8L1044.3 97.0L1045.0 94.7L1045.8 92.9L1046.5 91.7L1047.2 91.0L1047.9 90.9L1048.7 91.4L1049.4 92.4L1050.1 94.0L1050.8 96.2L1051.6 99.0L1052.3 102.3L1053.0 106.2L1053.7 110.6L1054.5 115.5L1055.2 121.0L1055.9 127.0L1056.6 133.4L1057.4 140.3L1058.1 147.6L1058.8 155.3L1059.5 163.4L1060.3 171.8L1061.0 180.4L1061.7 189.3L1062.4 198.4L1063.1 207.6L1063.9 216.9L1064.6 226.2L1065.3 235.5L1066.0 244.7L1066.8 253.7L1067.5 262.6L1068.2 271.2L1068.9 279.5L1069.7 287.5L1070.4 295.0L1071.1 302.1L1071.8 308.6L1072.6 314.7L1073.3 320.1L1074.0 324.9L1074.7 329.0L1075.5 332.5L1076.2 335.2L1076.9 337.3L1077.6 338.6L1078.4 339.2L1079.1 339.0L1079.8 338.1L1080.5 336.5L1081.2 334.2L1082.0 331.2L1082.7 327.6L1083.4 323.3L1084.1 318.4L1084.9 313.0L1085.6 307.0L1086.3 300.6L1087.0 293.7L1087.8 286.4L1088.5 278.8L1089.2 270.9L1089.9 262.7L1090.7 254.4L1091.4 245.9L1092.1 237.3L1092.8 228.6L1093.6 220.0L1094.3 211.4L1095.0 202.9L1095.7 194.5L1096.5 186.3L1097.2 178.4L1097.9 170.8L1098.6 163.4L1099.3 156.4L1100.1 149.8L1100.8 143.6L1101.5 137.9L1102.2 132.7L1103.0 128.0L1103.7 123.8L1104.4 120.1L1105.1 117.1L1105.9 114.6L1106.6 112.8L1107.3 111.6L1108.0 111.0L1108.8 111.1L1109.5 111.8L1110.2 113.2L1110.9 115.2L1111.7 117.8L1112.4 121.1L1113.1 124.9L1113.8 129.4L1114.6 134.5L1115.3 140.0L1116.0 146.2L1116.7 152.8L1117.4 159.8L1118.2 167.3L1118.9 175.2L1119.6 183.4L1120.3 191.9L1121.1 200.7L1121.8 209.6L1122.5 218.7L1123.2 227.9L1124.0 237.2L1124.7 246.4L1125.4 255.6L1126.1 264.7L1126.9 273.6L1127.6 282.3L1128.3 290.7L1129.0 298.8L1129.8 306.6L1130.5 313.9L1131.2 320.8L1131.9 327.3L1132.7 333.2L1133.4 338.6L1134.1 343.4L1134.8 347.7L1135.5 351.3L1136.3 354.2L1137.0 356.6L1137.7 358.3L1138.4 359.3L1139.2 359.6L1139.9 359.4L1140.6 358.4L1141.3 356.8L1142.1 354.6L1142.8 351.8L1143.5 348.4L1144.2 344.4L1145.0 339.9L1145.7 334.8L1146.4 329.3L1147.1 323.3L1147.9 316.9L1148.6 310.1L1149.3 302.9L1150.0 295.5L1150.8 287.7L1151.5 279.8L1152.2 271.7L1152.9 263.4L1153.6 255.1L1154.4 246.7L1155.1 238.3L1155.8 229.9L1156.5 221.7L1157.3 213.6L1158.0 205.7L1158.7 198.0L1159.4 190.7L1160.2 183.6L1160.9 176.9L1161.6 170.7L1162.3 164.8L1163.1 159.5L1163.8 154.7L1164.5 150.5L1165.2 146.8L1166.0 143.8L1166.7 141.4L1167.4 139.6L1168.1 138.5L1168.9 138.1L1169.6 138.4L1170.3 139.4L1171.0 141.0L1171.7 143.3L1172.5 146.3L1173.2 149.9L1173.9 154.2L1174.6 159.0L1175.4 164.4L1176.1 170.4L1176.8 176.9L1177.5 183.8L1178.3 191.1L1179.0 198.8L1179.7 206.9L1180.4 215.2L1181.2 223.7L1181.9 232.4L1182.6 241.2L1183.3 250.1L1184.1 259.1L1184.8 267.9L1185.5 276.7L1186.2 285.4L1187.0 293.8L1187.7 302.1L1188.4 310.1L1189.1 317.7L1189.8 325.1L1190.6 332.0L1191.3 338.5L1192.0 344.6L1192.7 350.2L1193.5 355.4L1194.2 360.0L1194.9 364.1L1195.6 367.7L1196.4 370.7L1197.1 373.1L1197.8 375.0L1198.5 376.3L1199.3 377.1L1200.0 377.3L1200.7 376.9L1201.4 376.0L1202.2 374.5L1202.9 372.5L1203.6 370.0L1204.3 366.9L1205.1 363.4L1205.8 359.3L1206.5 354.8L1207.2 349.8L1207.9 344.4L1208.7 338.6L1209.4 332.4L1210.1 325.9L1210.8 319.1L1211.6 312.0L1212.3 304.6L1213.0 297.0L1213.7 289.3L1214.5 281.4L1215.2 273.4L1215.9 265.4L1216.6 257.4L1217.4 249.5L1218.1 241.6L1218.8 233.9L1219.5 226.5L1220.3 219.2L1221.0 212.3L1221.7 205.7L1222.4 199.5L1223.2 193.8L1223.9 188.5L1224.6 183.8L1225.3 179.6L1226.0 176.1L1226.8 173.1L1227.5 170.8L1228.2 169.2L1228.9 168.2L1229.7 168.0L1230.4 168.4L1231.1 169.6L1231.8 171.5L1232.6 174.0L1233.3 177.2L1234.0 181.1L1234.7 185.6L1235.5 190.7L1236.2 196.3L1236.9 202.5L1237.6 209.1L1238.4 216.2L1239.1 223.7L1239.8 231.4L1240.5 239.5L1241.3 247.8L1242.0 256.3L1242.7 264.9L1243.4 273.6L1244.1 282.3L1244.9 290.9L1245.6 299.4L1246.3 307.8L1247.0 316.0L1247.8 323.9L1248.5 331.5L1249.2 338.7L1249.9 345.6L1250.7 352.1L1251.4 358.1L1252.1 363.7L1252.8 368.8L1253.6 373.4L1254.3 377.5L1255.0 381.1L1255.7 384.3L1256.5 386.9L1257.2 389.2L1257.9 390.9L1258.6 392.2L1259.4 393.1L1260.1 393.5L1260.8 393.6L1261.5 393.2L1262.2 392.5L1263.0 391.4L1263.7 389.9L1264.4 388.1L1265.1 385.9L1265.9 383.3L1266.6 380.4L1267.3 377.1L1268.0 373.4L1268.8 369.4L1269.5 364.9L1270.2 360.1L1270.9 355.0L1271.7 349.5L1272.4 343.6L1273.1 337.4L1273.8 330.9L1274.6 324.1L1275.3 317.0L1276.0 309.7L1276.7 302.2L1277.5 294.6L1278.2 286.8L1278.9 279.1L1279.6 271.3L1280.3 263.6L1281.1 256.0L1281.8 248.7L1282.5 241.6L1283.2 234.9L1284.0 228.5L1284.7 222.7L1285.4 217.4L1286.1 212.7L1286.9 208.7L1287.6 205.4L1288.3 202.8L1289.0 201.0L1289.8 200.0L1290.5 199.9L1291.2 200.6L1291.9 202.1L1292.7 204.4L1293.4 207.5L1294.1 211.4L1294.8 216.0L1295.6 221.2L1296.3 227.1L1297.0 233.5L1297.7 240.4L1298.4 247.7L1299.2 255.3L1299.9 263.2L1300.6 271.3L1301.3 279.5L1302.1 287.8L1302.8 296.1L1303.5 304.2L1304.2 312.3L1305.0 320.1L1305.7 327.7L1306.4 335.0L1307.1 342.0L1307.9 348.6L1308.6 354.9L1309.3 360.7L1310.0 366.2L1310.8 371.2L1311.5 375.8L1312.2 380.0L1312.9 383.8L1313.7 387.3L1314.4 390.3L1315.1 393.0L1315.8 395.3L1316.5 397.3L1317.3 399.0L1318.0 400.3L1318.7 400.5L1319.4 400.5L1320.2 400.5L1320.9 400.5L1321.6 400.5L1322.3 400.5L1323.1 400.5L1323.8 400.5L1324.5 400.4L1325.2 399.1L1326.0 397.4L1326.7 395.5L1327.4 393.2L1328.1 390.6L1328.9 387.6L1329.6 384.3L1330.3 380.5L1331.0 376.5L1331.8 372.0L1332.5 367.2L1333.2 362.0L1333.9 356.5L1334.6 350.7L1335.4 344.5L1336.1 338.1L1336.8 331.4L1337.5 324.6L1338.3 317.6L1339.0 310.5L1339.7 303.4L1340.4 296.3L1341.2 289.3L1341.9 282.4L1342.6 275.7L1343.3 269.4L1344.1 263.3L1344.8 257.7L1345.5 252.6L1346.2 247.9L1347.0 243.9L1347.7 240.4L1348.4 237.6L1349.1 235.5L1349.9 234.1L1350.6 233.4L1351.3 233.5L1352.0 234.3L1352.7 235.9L1353.5 238.2L1354.2 241.2L1354.9 244.9L1355.6 249.2L1356.4 254.2L1357.1 259.6L1357.8 265.6L1358.5 271.9L1359.3 278.7L1360.0 285.7L1360.7 293.0L1361.4 300.5L1362.2 308.0L1362.9 315.6L1363.6 323.1L1364.3 330.5L1365.1 337.8L1365.8 344.9L1366.5 351.8L1367.2 358.3L1368.0 364.6L1368.7 370.4L1369.4 376.0" stroke="#0000ff" stroke-dasharray="7.5 7.22" stroke-dashoffset="0"/>
</g>
<g transform="scale(1,1.2320)" fill="none" stroke-width="0.82">
<path d="M790.50 394.399v-6.981M790.50 31.250v6.737M819.50 394.399v-4.302M819.50 31.250v4.058M848.50 394.399v-4.302M848.50 31.250v4.058M877.50 394.399v-4.302M877.50 31.250v4.058M906.50 394.399v-4.302M906.50 31.250v4.058M935.50 394.399v-6.981M935.50 31.250v6.737M963.50 394.399v-4.302M963.50 31.250v4.058M992.50 394.399v-4.302M992.50 31.250v4.058M1021.50 394.399v-4.302M1021.50 31.250v4.058M1050.50 394.399v-4.302M1050.50 31.250v4.058M1079.50 394.399v-6.981M1079.50 31.250v6.737M1108.50 394.399v-4.302M1108.50 31.250v4.058M1137.50 394.399v-4.302M1137.50 31.250v4.058M1166.50 394.399v-4.302M1166.50 31.250v4.058M1195.50 394.399v-4.302M1195.50 31.250v4.058M1224.50 394.399v-6.981M1224.50 31.250v6.737M1253.50 394.399v-4.302M1253.50 31.250v4.058M1282.50 394.399v-4.302M1282.50 31.250v4.058M1311.50 394.399v-4.302M1311.50 31.250v4.058M1340.50 394.399v-4.302M1340.50 31.250v4.058M1369.50 394.399v-6.981M1369.50 31.250v6.737M778.00 393.263h4.40M1381.50 393.263h-4.40M778.00 377.029h7.20M1381.50 377.029h-7.20M778.00 361.607h4.40M1381.50 361.607h-4.40M778.00 345.373h4.40M1381.50 345.373h-4.40M778.00 329.951h4.40M1381.50 329.951h-4.40M778.00 313.718h7.20M1381.50 313.718h-7.20M778.00 298.295h4.40M1381.50 298.295h-4.40M778.00 282.062h4.40M1381.50 282.062h-4.40M778.00 265.828h4.40M1381.50 265.828h-4.40M778.00 250.406h7.20M1381.50 250.406h-7.20M778.00 234.172h4.40M1381.50 234.172h-4.40M778.00 218.750h4.40M1381.50 218.750h-4.40M778.00 202.516h4.40M1381.50 202.516h-4.40M778.00 187.094h7.20M1381.50 187.094h-7.20M778.00 170.860h4.40M1381.50 170.860h-4.40M778.00 155.438h4.40M1381.50 155.438h-4.40M778.00 139.205h4.40M1381.50 139.205h-4.40M778.00 123.782h7.20M1381.50 123.782h-7.20M778.00 107.549h4.40M1381.50 107.549h-4.40M778.00 92.127h4.40M1381.50 92.127h-4.40M778.00 75.893h4.40M1381.50 75.893h-4.40M778.00 60.471h7.20M1381.50 60.471h-7.20M778.00 44.237h4.40M1381.50 44.237h-4.40" stroke="#262626"/>
<rect x="778.00" y="31.250" width="603.50" height="363.149" stroke="#262626"/>
</g>
<text transform="translate(772.30,474.66) scale(1,1.232)" font-family='"Liberation Sans", "DejaVu Sans", sans-serif' font-size="29.80" text-anchor="end" stroke="#000" stroke-width="0.75" stroke-linejoin="round" >0.00</text>
<text transform="translate(772.30,396.58) scale(1,1.232)" font-family='"Liberation Sans", "DejaVu Sans", sans-serif' font-size="29.80" text-anchor="end" stroke="#000" stroke-width="0.75" stroke-linejoin="round" >0.02</text>
<text transform="translate(772.30,318.50) scale(1,1.232)" font-family='"Liberation Sans", "DejaVu Sans", sans-serif' font-size="29.80" text-anchor="end" stroke="#000" stroke-width="0.75" stroke-linejoin="round" >0.04</text>
<text transform="translate(772.30,240.42) scale(1,1.232)" font-family='"Liberation Sans", "DejaVu Sans", sans-serif' font-size="29.80" text-anchor="end" stroke="#000" stroke-width="0.75" stroke-linejoin="round" >0.06</text>
<text transform="translate(772.30,162.34) scale(1,1.232)" font-family='"Liberation Sans", "DejaVu Sans", sans-serif' font-size="29.80" text-anchor="end" stroke="#000" stroke-width="0.75" stroke-linejoin="round" >0.08</text>
<text transform="translate(772.30,84.26) scale(1,1.232)" font-family='"Liberation Sans", "DejaVu Sans", sans-serif' font-size="29.80" text-anchor="end" stroke="#000" stroke-width="0.75" stroke-linejoin="round" >0.10</text>
<text transform="translate(790.20,521.21) scale(1,1.232)" font-family='"Liberation Sans", "DejaVu Sans", sans-serif' font-size="29.80" text-anchor="middle" stroke="#000" stroke-width="0.75" stroke-linejoin="round" >0</text>
<text transform="translate(935.00,521.21) scale(1,1.232)" font-family='"Liberation Sans", "DejaVu Sans", sans-serif' font-size="29.80" text-anchor="middle" stroke="#000" stroke-width="0.75" stroke-linejoin="round" >5</text>
<text transform="translate(1079.80,521.21) scale(1,1.232)" font-family='"Liberation Sans", "DejaVu Sans", sans-serif' font-size="29.80" text-anchor="middle" stroke="#000" stroke-width="0.75" stroke-linejoin="round" >10</text>
<text transform="translate(1224.60,521.21) scale(1,1.232)" font-family='"Liberation Sans", "DejaVu Sans", sans-serif' font-size="29.80" text-anchor="middle" stroke="#000" stroke-width="0.75" stroke-linejoin="round" >15</text>
<text transform="translate(1369.40,521.21) scale(1,1.232)" font-family='"Liberation Sans", "DejaVu Sans", sans-serif' font-size="29.80" text-anchor="middle" stroke="#000" stroke-width="0.75" stroke-linejoin="round" >20</text>
<text transform="translate(1079.65,579.90) scale(1,1.247)" font-family='"Liberation Sans", "DejaVu Sans", sans-serif' font-size="37.80" text-anchor="middle" stroke="#000" stroke-width="0.75" stroke-linejoin="round" >Time</text>
<text transform="translate(1035.20,29.15) scale(1,1.195)" font-family='"Liberation Sans", "DejaVu Sans", sans-serif' font-size="29.80" text-anchor="start" stroke="#000" stroke-width="0.75" stroke-linejoin="round" >N(<tspan font-style="italic">ω</tspan>, t)</text>
<text transform="translate(806.25,27.32) scale(1.0513,0.9953)" font-family='"Liberation Serif", "DejaVu Serif", serif' font-size="40.0" stroke="#000" stroke-width="0.30">(</text>
<text transform="translate(820.54,28.47) scale(0.9188,1.0979)" font-family='"Liberation Serif", "DejaVu Serif", serif' font-size="40.0" font-style="italic" stroke="#000" stroke-width="0.30">b</text>
<text transform="translate(837.74,27.32) scale(1.0513,0.9953)" font-family='"Liberation Serif", "DejaVu Serif", serif' font-size="40.0" stroke="#000" stroke-width="0.30">)</text>
<g transform="scale(1,1.1600)" fill="none" stroke-width="4">
<path d="M1196.70 61.466H1267.80" stroke="#ff0000"/>
<path d="M1196.70 94.052H1266.90" stroke="#00ff00" stroke-dasharray="2.05 0.56"/>
<path d="M1196.70 126.121H1267.80" stroke="#0000ff" stroke-dasharray="8 7"/>
</g>
<text transform="translate(1273.40,82.80) scale(1,1.150)" font-family='"Liberation Sans", "DejaVu Sans", sans-serif' font-size="27.90" text-anchor="start" stroke="#000" stroke-width="0.75" stroke-linejoin="round" ><tspan font-style="italic">ω</tspan> = 1.0</text>
<text transform="translate(1273.40,120.60) scale(1,1.150)" font-family='"Liberation Sans", "DejaVu Sans", sans-serif' font-size="27.90" text-anchor="start" stroke="#000" stroke-width="0.75" stroke-linejoin="round" ><tspan font-style="italic">ω</tspan> = 2.0</text>
<text transform="translate(1273.40,157.80) scale(1,1.150)" font-family='"Liberation Sans", "DejaVu Sans", sans-serif' font-size="27.90" text-anchor="start" stroke="#000" stroke-width="0.75" stroke-linejoin="round" ><tspan font-style="italic">ω</tspan> = 3.0</text>
</g>
<g id="panel-c">
<g transform="scale(1,1.2140)" fill="none" stroke="#d4d4d4" stroke-width="0.82"><path d="M1505.47 42.175V401.071 M1493.50 385.091H2096.50"/></g>
<g transform="scale(1,1.1600)" fill="none" stroke-width="4" stroke-linejoin="round">
<path d="M1505.5 226.8L1506.2 223.3L1506.9 219.9L1507.6 216.4L1508.4 212.8L1509.1 209.3L1509.8 205.7L1510.5 202.2L1511.3 198.6L1512.0 194.9L1512.7 191.3L1513.4 187.7L1514.2 184.1L1514.9 180.5L1515.6 176.8L1516.3 173.2L1517.1 169.6L1517.8 166.0L1518.5 162.4L1519.2 158.9L1519.9 155.4L1520.7 151.9L1521.4 148.4L1522.1 144.9L1522.8 141.5L1523.6 138.2L1524.3 134.8L1525.0 131.6L1525.7 128.3L1526.5 125.2L1527.2 122.1L1527.9 119.0L1528.6 116.0L1529.4 113.1L1530.1 110.2L1530.8 107.4L1531.5 104.7L1532.3 102.1L1533.0 99.6L1533.7 97.1L1534.4 94.7L1535.1 92.4L1535.9 90.2L1536.6 88.1L1537.3 86.1L1538.0 84.2L1538.8 82.4L1539.5 80.7L1540.2 79.1L1540.9 77.6L1541.7 76.2L1542.4 74.9L1543.1 73.8L1543.8 72.7L1544.6 71.8L1545.3 70.9L1546.0 70.2L1546.7 69.6L1547.4 69.2L1548.2 68.8L1548.9 68.6L1549.6 68.4L1550.3 68.4L1551.1 68.6L1551.8 68.8L1552.5 69.1L1553.2 69.6L1554.0 70.2L1554.7 70.9L1555.4 71.7L1556.1 72.6L1556.9 73.7L1557.6 74.8L1558.3 76.1L1559.0 77.5L1559.8 79.0L1560.5 80.6L1561.2 82.3L1561.9 84.1L1562.6 86.0L1563.4 88.0L1564.1 90.1L1564.8 92.3L1565.5 94.5L1566.3 96.9L1567.0 99.4L1567.7 101.9L1568.4 104.5L1569.2 107.2L1569.9 110.0L1570.6 112.9L1571.3 115.8L1572.1 118.8L1572.8 121.8L1573.5 124.9L1574.2 128.1L1575.0 131.3L1575.7 134.6L1576.4 137.9L1577.1 141.3L1577.8 144.7L1578.6 148.1L1579.3 151.6L1580.0 155.1L1580.7 158.6L1581.5 162.2L1582.2 165.8L1582.9 169.4L1583.6 173.0L1584.4 176.6L1585.1 180.2L1585.8 183.9L1586.5 187.5L1587.3 191.2L1588.0 194.8L1588.7 198.5L1589.4 202.1L1590.2 205.7L1590.9 209.3L1591.6 212.9L1592.3 216.5L1593.0 220.1L1593.8 223.6L1594.5 227.1L1595.2 230.6L1595.9 234.0L1596.7 237.4L1597.4 240.8L1598.1 244.1L1598.8 247.4L1599.6 250.7L1600.3 253.9L1601.0 257.1L1601.7 260.2L1602.5 263.3L1603.2 266.4L1603.9 269.3L1604.6 272.3L1605.4 275.2L1606.1 278.0L1606.8 280.8L1607.5 283.5L1608.2 286.2L1609.0 288.8L1609.7 291.4L1610.4 293.9L1611.1 296.4L1611.9 298.8L1612.6 301.1L1613.3 303.4L1614.0 305.6L1614.8 307.7L1615.5 309.8L1616.2 311.9L1616.9 313.9L1617.7 315.8L1618.4 317.7L1619.1 319.5L1619.8 321.2L1620.6 322.9L1621.3 324.5L1622.0 326.1L1622.7 327.6L1623.4 329.1L1624.2 330.5L1624.9 331.8L1625.6 333.1L1626.3 334.4L1627.1 335.5L1627.8 336.6L1628.5 337.7L1629.2 338.7L1630.0 339.7L1630.7 340.6L1631.4 341.4L1632.1 342.2L1632.9 343.0L1633.6 343.6L1634.3 344.3L1635.0 344.9L1635.8 345.4L1636.5 345.9L1637.2 346.3L1637.9 346.7L1638.6 347.0L1639.4 347.3L1640.1 347.5L1640.8 347.7L1641.5 347.8L1642.3 347.9L1643.0 347.9L1643.7 347.9L1644.4 347.8L1645.2 347.7L1645.9 347.5L1646.6 347.3L1647.3 347.0L1648.1 346.7L1648.8 346.4L1649.5 346.0L1650.2 345.5L1651.0 345.0L1651.7 344.4L1652.4 343.8L1653.1 343.2L1653.8 342.5L1654.6 341.7L1655.3 340.9L1656.0 340.1L1656.7 339.2L1657.5 338.2L1658.2 337.2L1658.9 336.2L1659.6 335.1L1660.4 333.9L1661.1 332.7L1661.8 331.5L1662.5 330.2L1663.3 328.8L1664.0 327.4L1664.7 326.0L1665.4 324.5L1666.2 322.9L1666.9 321.3L1667.6 319.7L1668.3 318.0L1669.0 316.3L1669.8 314.5L1670.5 312.6L1671.2 310.7L1671.9 308.8L1672.7 306.8L1673.4 304.8L1674.1 302.7L1674.8 300.6L1675.6 298.5L1676.3 296.3L1677.0 294.0L1677.7 291.7L1678.5 289.4L1679.2 287.1L1679.9 284.7L1680.6 282.2L1681.4 279.8L1682.1 277.3L1682.8 274.7L1683.5 272.1L1684.2 269.5L1685.0 266.9L1685.7 264.3L1686.4 261.6L1687.1 258.9L1687.9 256.2L1688.6 253.4L1689.3 250.7L1690.0 247.9L1690.8 245.1L1691.5 242.3L1692.2 239.5L1692.9 236.7L1693.7 233.9L1694.4 231.0L1695.1 228.2L1695.8 225.4L1696.5 222.6L1697.3 219.8L1698.0 217.0L1698.7 214.2L1699.4 211.4L1700.2 208.7L1700.9 205.9L1701.6 203.2L1702.3 200.5L1703.1 197.9L1703.8 195.2L1704.5 192.7L1705.2 190.1L1706.0 187.6L1706.7 185.1L1707.4 182.6L1708.1 180.2L1708.9 177.9L1709.6 175.6L1710.3 173.4L1711.0 171.2L1711.7 169.0L1712.5 167.0L1713.2 165.0L1713.9 163.0L1714.6 161.1L1715.4 159.3L1716.1 157.6L1716.8 155.9L1717.5 154.3L1718.3 152.8L1719.0 151.4L1719.7 150.1L1720.4 148.8L1721.2 147.6L1721.9 146.5L1722.6 145.5L1723.3 144.5L1724.1 143.7L1724.8 142.9L1725.5 142.3L1726.2 141.7L1726.9 141.2L1727.7 140.9L1728.4 140.6L1729.1 140.4L1729.8 140.3L1730.6 140.3L1731.3 140.3L1732.0 140.5L1732.7 140.8L1733.5 141.2L1734.2 141.6L1734.9 142.2L1735.6 142.9L1736.4 143.6L1737.1 144.5L1737.8 145.4L1738.5 146.5L1739.3 147.6L1740.0 148.8L1740.7 150.1L1741.4 151.5L1742.1 153.0L1742.9 154.5L1743.6 156.2L1744.3 157.9L1745.0 159.7L1745.8 161.6L1746.5 163.6L1747.2 165.6L1747.9 167.7L1748.7 169.9L1749.4 172.1L1750.1 174.4L1750.8 176.8L1751.6 179.2L1752.3 181.7L1753.0 184.3L1753.7 186.9L1754.5 189.5L1755.2 192.2L1755.9 194.9L1756.6 197.7L1757.3 200.5L1758.1 203.4L1758.8 206.3L1759.5 209.2L1760.2 212.2L1761.0 215.1L1761.7 218.1L1762.4 221.1L1763.1 224.2L1763.9 227.2L1764.6 230.3L1765.3 233.4L1766.0 236.4L1766.8 239.5L1767.5 242.6L1768.2 245.7L1768.9 248.8L1769.7 251.8L1770.4 254.9L1771.1 258.0L1771.8 261.0L1772.5 264.0L1773.3 267.1L1774.0 270.1L1774.7 273.0L1775.4 276.0L1776.2 278.9L1776.9 281.8L1777.6 284.7L1778.3 287.5L1779.1 290.3L1779.8 293.1L1780.5 295.9L1781.2 298.6L1782.0 301.2L1782.7 303.9L1783.4 306.4L1784.1 309.0L1784.9 311.5L1785.6 314.0L1786.3 316.4L1787.0 318.8L1787.7 321.1L1788.5 323.4L1789.2 325.6L1789.9 327.8L1790.6 330.0L1791.4 332.0L1792.1 334.1L1792.8 336.1L1793.5 338.0L1794.3 339.9L1795.0 341.8L1795.7 343.6L1796.4 345.3L1797.2 347.0L1797.9 348.7L1798.6 350.3L1799.3 351.8L1800.1 353.3L1800.8 354.8L1801.5 356.2L1802.2 357.6L1802.9 358.9L1803.7 360.1L1804.4 361.4L1805.1 362.5L1805.8 363.7L1806.6 364.7L1807.3 365.8L1808.0 366.8L1808.7 367.7L1809.5 368.6L1810.2 369.5L1810.9 370.3L1811.6 371.1L1812.4 371.8L1813.1 372.5L1813.8 373.1L1814.5 373.7L1815.3 374.3L1816.0 374.8L1816.7 375.3L1817.4 375.8L1818.1 376.2L1818.9 376.5L1819.6 376.9L1820.3 377.2L1821.0 377.4L1821.8 377.6L1822.5 377.8L1823.2 378.0L1823.9 378.1L1824.7 378.2L1825.4 378.2L1826.1 378.2L1826.8 378.2L1827.6 378.1L1828.3 378.0L1829.0 377.9L1829.7 377.7L1830.5 377.5L1831.2 377.3L1831.9 377.1L1832.6 376.8L1833.3 376.4L1834.1 376.1L1834.8 375.7L1835.5 375.2L1836.2 374.7L1837.0 374.2L1837.7 373.7L1838.4 373.1L1839.1 372.5L1839.9 371.9L1840.6 371.2L1841.3 370.5L1842.0 369.8L1842.8 369.0L1843.5 368.2L1844.2 367.4L1844.9 366.5L1845.7 365.6L1846.4 364.6L1847.1 363.6L1847.8 362.6L1848.5 361.6L1849.3 360.5L1850.0 359.4L1850.7 358.2L1851.4 357.1L1852.2 355.8L1852.9 354.6L1853.6 353.3L1854.3 352.0L1855.1 350.7L1855.8 349.3L1856.5 347.9L1857.2 346.5L1858.0 345.0L1858.7 343.5L1859.4 342.0L1860.1 340.5L1860.8 338.9L1861.6 337.3L1862.3 335.7L1863.0 334.1L1863.7 332.4L1864.5 330.7L1865.2 329.0L1865.9 327.3L1866.6 325.5L1867.4 323.8L1868.1 322.0L1868.8 320.2L1869.5 318.4L1870.3 316.5L1871.0 314.7L1871.7 312.9L1872.4 311.0L1873.2 309.2L1873.9 307.3L1874.6 305.4L1875.3 303.6L1876.0 301.7L1876.8 299.8L1877.5 298.0L1878.2 296.1L1878.9 294.2L1879.7 292.4L1880.4 290.6L1881.1 288.7L1881.8 286.9L1882.6 285.1L1883.3 283.3L1884.0 281.6L1884.7 279.8L1885.5 278.1L1886.2 276.4L1886.9 274.8L1887.6 273.1L1888.4 271.5L1889.1 269.9L1889.8 268.4L1890.5 266.9L1891.2 265.4L1892.0 264.0L1892.7 262.6L1893.4 261.2L1894.1 259.9L1894.9 258.6L1895.6 257.4L1896.3 256.2L1897.0 255.1L1897.8 254.0L1898.5 253.0L1899.2 252.0L1899.9 251.0L1900.7 250.2L1901.4 249.4L1902.1 248.6L1902.8 247.9L1903.6 247.3L1904.3 246.7L1905.0 246.1L1905.7 245.7L1906.4 245.3L1907.2 244.9L1907.9 244.7L1908.6 244.4L1909.3 244.3L1910.1 244.2L1910.8 244.2L1911.5 244.2L1912.2 244.3L1913.0 244.5L1913.7 244.7L1914.4 245.0L1915.1 245.3L1915.9 245.8L1916.6 246.2L1917.3 246.8L1918.0 247.4L1918.8 248.1L1919.5 248.8L1920.2 249.6L1920.9 250.4L1921.6 251.3L1922.4 252.3L1923.1 253.3L1923.8 254.4L1924.5 255.5L1925.3 256.7L1926.0 258.0L1926.7 259.2L1927.4 260.6L1928.2 262.0L1928.9 263.4L1929.6 264.9L1930.3 266.4L1931.1 267.9L1931.8 269.6L1932.5 271.2L1933.2 272.9L1934.0 274.6L1934.7 276.3L1935.4 278.1L1936.1 279.9L1936.8 281.7L1937.6 283.6L1938.3 285.5L1939.0 287.4L1939.7 289.3L1940.5 291.3L1941.2 293.2L1941.9 295.2L1942.6 297.2L1943.4 299.2L1944.1 301.2L1944.8 303.2L1945.5 305.3L1946.3 307.3L1947.0 309.3L1947.7 311.4L1948.4 313.4L1949.2 315.4L1949.9 317.4L1950.6 319.5L1951.3 321.5L1952.0 323.5L1952.8 325.5L1953.5 327.5L1954.2 329.4L1954.9 331.4L1955.7 333.3L1956.4 335.2L1957.1 337.1L1957.8 339.0L1958.6 340.9L1959.3 342.7L1960.0 344.5L1960.7 346.3L1961.5 348.1L1962.2 349.8L1962.9 351.6L1963.6 353.2L1964.4 354.9L1965.1 356.5L1965.8 358.1L1966.5 359.7L1967.2 361.3L1968.0 362.8L1968.7 364.3L1969.4 365.7L1970.1 367.1L1970.9 368.5L1971.6 369.9L1972.3 371.2L1973.0 372.5L1973.8 373.7L1974.5 375.0L1975.2 376.2L1975.9 377.3L1976.7 378.5L1977.4 379.5L1978.1 380.6L1978.8 381.6L1979.6 382.6L1980.3 383.6L1981.0 384.5L1981.7 385.4L1982.4 386.3L1983.2 387.2L1983.9 388.0L1984.6 388.8L1985.3 389.5L1986.1 390.2L1986.8 390.9L1987.5 391.6L1988.2 392.2L1989.0 392.9L1989.7 393.4L1990.4 394.0L1991.1 394.5L1991.9 395.0L1992.6 395.5L1993.3 396.0L1994.0 396.4L1994.8 396.8L1995.5 397.2L1996.2 397.6L1996.9 397.9L1997.6 398.2L1998.4 398.5L1999.1 398.8L1999.8 399.0L2000.5 399.3L2001.3 399.5L2002.0 399.6L2002.7 399.8L2003.4 400.0L2004.2 400.1L2004.9 400.2L2005.6 400.3L2006.3 400.4L2007.1 400.4L2007.8 400.4L2008.5 400.4L2009.2 400.4L2009.9 400.4L2010.7 400.4L2011.4 400.3L2012.1 400.2L2012.8 400.1L2013.6 400.0L2014.3 399.9L2015.0 399.7L2015.7 399.5L2016.5 399.3L2017.2 399.1L2017.9 398.9L2018.6 398.6L2019.4 398.4L2020.1 398.1L2020.8 397.8L2021.5 397.4L2022.3 397.1L2023.0 396.7L2023.7 396.3L2024.4 395.9L2025.1 395.5L2025.9 395.0L2026.6 394.6L2027.3 394.1L2028.0 393.6L2028.8 393.0L2029.5 392.5L2030.2 391.9L2030.9 391.3L2031.7 390.7L2032.4 390.1L2033.1 389.4L2033.8 388.7L2034.6 388.0L2035.3 387.3L2036.0 386.6L2036.7 385.8L2037.5 385.1L2038.2 384.3L2038.9 383.5L2039.6 382.6L2040.3 381.8L2041.1 380.9L2041.8 380.0L2042.5 379.1L2043.2 378.2L2044.0 377.2L2044.7 376.3L2045.4 375.3L2046.1 374.3L2046.9 373.3L2047.6 372.3L2048.3 371.2L2049.0 370.2L2049.8 369.1L2050.5 368.1L2051.2 367.0L2051.9 365.9L2052.7 364.8L2053.4 363.7L2054.1 362.6L2054.8 361.4L2055.5 360.3L2056.3 359.2L2057.0 358.0L2057.7 356.9L2058.4 355.8L2059.2 354.6L2059.9 353.5L2060.6 352.3L2061.3 351.2L2062.1 350.1L2062.8 349.0L2063.5 347.8L2064.2 346.7L2065.0 345.6L2065.7 344.5L2066.4 343.5L2067.1 342.4L2067.9 341.4L2068.6 340.3L2069.3 339.3L2070.0 338.3L2070.7 337.3L2071.5 336.3L2072.2 335.4L2072.9 334.5L2073.6 333.6L2074.4 332.7L2075.1 331.8L2075.8 331.0L2076.5 330.2L2077.3 329.5L2078.0 328.7L2078.7 328.0L2079.4 327.3L2080.2 326.7L2080.9 326.1L2081.6 325.5L2082.3 325.0L2083.1 324.4L2083.8 324.0L2084.5 323.5" stroke="#ff0000"/>
<path d="M1505.5 226.8L1506.2 219.8L1506.9 212.8L1507.6 205.6L1508.4 198.4L1509.1 191.1L1509.8 183.8L1510.5 176.5L1511.3 169.3L1512.0 162.0L1512.7 154.9L1513.4 147.8L1514.2 140.8L1514.9 134.1L1515.6 127.4L1516.3 121.0L1517.1 114.9L1517.8 108.9L1518.5 103.3L1519.2 98.0L1519.9 93.0L1520.7 88.3L1521.4 84.1L1522.1 80.2L1522.8 76.7L1523.6 73.7L1524.3 71.0L1525.0 68.9L1525.7 67.2L1526.5 65.9L1527.2 65.2L1527.9 64.9L1528.6 65.0L1529.4 65.7L1530.1 66.8L1530.8 68.4L1531.5 70.4L1532.3 72.9L1533.0 75.9L1533.7 79.2L1534.4 83.0L1535.1 87.1L1535.9 91.6L1536.6 96.5L1537.3 101.7L1538.0 107.2L1538.8 113.1L1539.5 119.1L1540.2 125.4L1540.9 131.9L1541.7 138.6L1542.4 145.5L1543.1 152.5L1543.8 159.6L1544.6 166.8L1545.3 174.0L1546.0 181.2L1546.7 188.5L1547.4 195.8L1548.2 203.0L1548.9 210.1L1549.6 217.2L1550.3 224.2L1551.1 231.0L1551.8 237.8L1552.5 244.3L1553.2 250.7L1554.0 256.9L1554.7 263.0L1555.4 268.8L1556.1 274.4L1556.9 279.8L1557.6 285.0L1558.3 290.0L1559.0 294.7L1559.8 299.2L1560.5 303.4L1561.2 307.4L1561.9 311.2L1562.6 314.7L1563.4 318.0L1564.1 321.1L1564.8 323.9L1565.5 326.5L1566.3 328.9L1567.0 331.0L1567.7 332.9L1568.4 334.6L1569.2 336.1L1569.9 337.4L1570.6 338.4L1571.3 339.2L1572.1 339.9L1572.8 340.3L1573.5 340.5L1574.2 340.5L1575.0 340.3L1575.7 339.8L1576.4 339.2L1577.1 338.4L1577.8 337.3L1578.6 336.1L1579.3 334.6L1580.0 332.9L1580.7 331.0L1581.5 328.9L1582.2 326.5L1582.9 323.9L1583.6 321.1L1584.4 318.1L1585.1 314.8L1585.8 311.3L1586.5 307.6L1587.3 303.6L1588.0 299.5L1588.7 295.1L1589.4 290.4L1590.2 285.6L1590.9 280.6L1591.6 275.3L1592.3 269.9L1593.0 264.2L1593.8 258.4L1594.5 252.5L1595.2 246.3L1595.9 240.1L1596.7 233.7L1597.4 227.2L1598.1 220.6L1598.8 214.0L1599.6 207.3L1600.3 200.6L1601.0 193.9L1601.7 187.2L1602.5 180.5L1603.2 173.9L1603.9 167.3L1604.6 160.9L1605.4 154.6L1606.1 148.5L1606.8 142.5L1607.5 136.8L1608.2 131.3L1609.0 126.0L1609.7 121.0L1610.4 116.3L1611.1 111.9L1611.9 107.9L1612.6 104.2L1613.3 100.8L1614.0 97.9L1614.8 95.3L1615.5 93.2L1616.2 91.4L1616.9 90.1L1617.7 89.2L1618.4 88.8L1619.1 88.8L1619.8 89.2L1620.6 90.1L1621.3 91.3L1622.0 93.1L1622.7 95.2L1623.4 97.8L1624.2 100.7L1624.9 104.0L1625.6 107.8L1626.3 111.8L1627.1 116.2L1627.8 120.9L1628.5 126.0L1629.2 131.3L1630.0 136.8L1630.7 142.6L1631.4 148.6L1632.1 154.8L1632.9 161.2L1633.6 167.7L1634.3 174.3L1635.0 181.0L1635.8 187.8L1636.5 194.6L1637.2 201.5L1637.9 208.3L1638.6 215.2L1639.4 222.0L1640.1 228.7L1640.8 235.4L1641.5 241.9L1642.3 248.3L1643.0 254.7L1643.7 260.8L1644.4 266.8L1645.2 272.7L1645.9 278.3L1646.6 283.8L1647.3 289.1L1648.1 294.2L1648.8 299.0L1649.5 303.7L1650.2 308.1L1651.0 312.3L1651.7 316.3L1652.4 320.1L1653.1 323.6L1653.8 326.9L1654.6 330.0L1655.3 332.9L1656.0 335.5L1656.7 337.9L1657.5 340.1L1658.2 342.1L1658.9 343.9L1659.6 345.5L1660.4 346.9L1661.1 348.1L1661.8 349.0L1662.5 349.8L1663.3 350.4L1664.0 350.7L1664.7 350.9L1665.4 350.9L1666.2 350.7L1666.9 350.3L1667.6 349.7L1668.3 348.9L1669.0 347.9L1669.8 346.7L1670.5 345.3L1671.2 343.8L1671.9 342.0L1672.7 340.0L1673.4 337.8L1674.1 335.4L1674.8 332.9L1675.6 330.1L1676.3 327.1L1677.0 323.9L1677.7 320.5L1678.5 316.9L1679.2 313.1L1679.9 309.1L1680.6 304.9L1681.4 300.5L1682.1 295.9L1682.8 291.2L1683.5 286.3L1684.2 281.2L1685.0 276.0L1685.7 270.6L1686.4 265.1L1687.1 259.5L1687.9 253.8L1688.6 248.1L1689.3 242.2L1690.0 236.3L1690.8 230.4L1691.5 224.4L1692.2 218.5L1692.9 212.6L1693.7 206.7L1694.4 200.9L1695.1 195.2L1695.8 189.6L1696.5 184.1L1697.3 178.8L1698.0 173.6L1698.7 168.7L1699.4 163.9L1700.2 159.4L1700.9 155.2L1701.6 151.2L1702.3 147.5L1703.1 144.1L1703.8 141.0L1704.5 138.3L1705.2 135.9L1706.0 133.9L1706.7 132.2L1707.4 131.0L1708.1 130.1L1708.9 129.5L1709.6 129.4L1710.3 129.7L1711.0 130.3L1711.7 131.4L1712.5 132.8L1713.2 134.6L1713.9 136.8L1714.6 139.3L1715.4 142.2L1716.1 145.5L1716.8 149.0L1717.5 152.9L1718.3 157.1L1719.0 161.5L1719.7 166.2L1720.4 171.1L1721.2 176.3L1721.9 181.6L1722.6 187.2L1723.3 192.8L1724.1 198.7L1724.8 204.6L1725.5 210.6L1726.2 216.7L1726.9 222.9L1727.7 229.0L1728.4 235.2L1729.1 241.4L1729.8 247.5L1730.6 253.6L1731.3 259.6L1732.0 265.5L1732.7 271.4L1733.5 277.1L1734.2 282.7L1734.9 288.1L1735.6 293.4L1736.4 298.6L1737.1 303.6L1737.8 308.4L1738.5 313.0L1739.3 317.4L1740.0 321.6L1740.7 325.7L1741.4 329.5L1742.1 333.2L1742.9 336.6L1743.6 339.9L1744.3 342.9L1745.0 345.7L1745.8 348.4L1746.5 350.8L1747.2 353.1L1747.9 355.1L1748.7 357.0L1749.4 358.7L1750.1 360.2L1750.8 361.6L1751.6 362.7L1752.3 363.7L1753.0 364.5L1753.7 365.1L1754.5 365.6L1755.2 365.9L1755.9 366.0L1756.6 366.0L1757.3 365.8L1758.1 365.5L1758.8 364.9L1759.5 364.3L1760.2 363.4L1761.0 362.4L1761.7 361.2L1762.4 359.9L1763.1 358.4L1763.9 356.7L1764.6 354.8L1765.3 352.8L1766.0 350.6L1766.8 348.2L1767.5 345.6L1768.2 342.9L1768.9 340.0L1769.7 336.9L1770.4 333.7L1771.1 330.3L1771.8 326.7L1772.5 322.9L1773.3 319.0L1774.0 315.0L1774.7 310.8L1775.4 306.5L1776.2 302.0L1776.9 297.5L1777.6 292.8L1778.3 288.0L1779.1 283.2L1779.8 278.2L1780.5 273.3L1781.2 268.3L1782.0 263.2L1782.7 258.2L1783.4 253.1L1784.1 248.1L1784.9 243.2L1785.6 238.3L1786.3 233.4L1787.0 228.7L1787.7 224.1L1788.5 219.7L1789.2 215.4L1789.9 211.2L1790.6 207.3L1791.4 203.6L1792.1 200.1L1792.8 196.8L1793.5 193.8L1794.3 191.1L1795.0 188.6L1795.7 186.4L1796.4 184.6L1797.2 183.0L1797.9 181.8L1798.6 180.9L1799.3 180.4L1800.1 180.1L1800.8 180.2L1801.5 180.7L1802.2 181.5L1802.9 182.6L1803.7 184.0L1804.4 185.8L1805.1 187.8L1805.8 190.2L1806.6 192.9L1807.3 195.8L1808.0 199.1L1808.7 202.6L1809.5 206.3L1810.2 210.2L1810.9 214.4L1811.6 218.8L1812.4 223.3L1813.1 228.0L1813.8 232.8L1814.5 237.8L1815.3 242.8L1816.0 248.0L1816.7 253.2L1817.4 258.4L1818.1 263.7L1818.9 269.0L1819.6 274.3L1820.3 279.5L1821.0 284.7L1821.8 289.9L1822.5 295.0L1823.2 300.0L1823.9 304.9L1824.7 309.7L1825.4 314.3L1826.1 318.9L1826.8 323.3L1827.6 327.6L1828.3 331.7L1829.0 335.7L1829.7 339.5L1830.5 343.1L1831.2 346.6L1831.9 349.9L1832.6 353.0L1833.3 356.0L1834.1 358.8L1834.8 361.4L1835.5 363.8L1836.2 366.1L1837.0 368.2L1837.7 370.2L1838.4 372.0L1839.1 373.6L1839.9 375.1L1840.6 376.4L1841.3 377.6L1842.0 378.7L1842.8 379.5L1843.5 380.3L1844.2 380.9L1844.9 381.4L1845.7 381.7L1846.4 382.0L1847.1 382.0L1847.8 382.0L1848.5 381.8L1849.3 381.5L1850.0 381.0L1850.7 380.5L1851.4 379.8L1852.2 378.9L1852.9 377.9L1853.6 376.8L1854.3 375.6L1855.1 374.2L1855.8 372.7L1856.5 371.0L1857.2 369.2L1858.0 367.3L1858.7 365.2L1859.4 363.0L1860.1 360.6L1860.8 358.1L1861.6 355.4L1862.3 352.6L1863.0 349.7L1863.7 346.7L1864.5 343.5L1865.2 340.2L1865.9 336.8L1866.6 333.2L1867.4 329.6L1868.1 325.9L1868.8 322.1L1869.5 318.2L1870.3 314.2L1871.0 310.2L1871.7 306.1L1872.4 302.1L1873.2 298.0L1873.9 293.9L1874.6 289.8L1875.3 285.7L1876.0 281.7L1876.8 277.7L1877.5 273.8L1878.2 270.0L1878.9 266.3L1879.7 262.8L1880.4 259.3L1881.1 256.0L1881.8 252.9L1882.6 249.9L1883.3 247.2L1884.0 244.6L1884.7 242.2L1885.5 240.1L1886.2 238.2L1886.9 236.6L1887.6 235.2L1888.4 234.1L1889.1 233.2L1889.8 232.7L1890.5 232.3L1891.2 232.3L1892.0 232.5L1892.7 233.1L1893.4 233.9L1894.1 234.9L1894.9 236.2L1895.6 237.8L1896.3 239.7L1897.0 241.8L1897.8 244.1L1898.5 246.7L1899.2 249.4L1899.9 252.4L1900.7 255.6L1901.4 258.9L1902.1 262.4L1902.8 266.1L1903.6 269.9L1904.3 273.8L1905.0 277.8L1905.7 281.9L1906.4 286.0L1907.2 290.2L1907.9 294.5L1908.6 298.8L1909.3 303.1L1910.1 307.4L1910.8 311.6L1911.5 315.9L1912.2 320.1L1913.0 324.2L1913.7 328.3L1914.4 332.2L1915.1 336.1L1915.9 339.9L1916.6 343.6L1917.3 347.2L1918.0 350.7L1918.8 354.0L1919.5 357.2L1920.2 360.3L1920.9 363.2L1921.6 366.0L1922.4 368.7L1923.1 371.2L1923.8 373.6L1924.5 375.8L1925.3 377.9L1926.0 379.9L1926.7 381.7L1927.4 383.4L1928.2 385.0L1928.9 386.4L1929.6 387.8L1930.3 388.9L1931.1 390.0L1931.8 391.0L1932.5 391.8L1933.2 392.6L1934.0 393.2L1934.7 393.7L1935.4 394.1L1936.1 394.4L1936.8 394.6L1937.6 394.8L1938.3 394.8L1939.0 394.7L1939.7 394.5L1940.5 394.2L1941.2 393.9L1941.9 393.4L1942.6 392.8L1943.4 392.2L1944.1 391.4L1944.8 390.5L1945.5 389.5L1946.3 388.5L1947.0 387.3L1947.7 386.0L1948.4 384.6L1949.2 383.1L1949.9 381.5L1950.6 379.8L1951.3 377.9L1952.0 376.0L1952.8 373.9L1953.5 371.8L1954.2 369.5L1954.9 367.2L1955.7 364.7L1956.4 362.2L1957.1 359.5L1957.8 356.8L1958.6 354.0L1959.3 351.1L1960.0 348.2L1960.7 345.2L1961.5 342.2L1962.2 339.1L1962.9 335.9L1963.6 332.8L1964.4 329.7L1965.1 326.5L1965.8 323.4L1966.5 320.3L1967.2 317.2L1968.0 314.1L1968.7 311.2L1969.4 308.3L1970.1 305.5L1970.9 302.7L1971.6 300.1L1972.3 297.6L1973.0 295.3L1973.8 293.0L1974.5 291.0L1975.2 289.1L1975.9 287.3L1976.7 285.8L1977.4 284.4L1978.1 283.2L1978.8 282.2L1979.6 281.4L1980.3 280.8L1981.0 280.5L1981.7 280.3L1982.4 280.4L1983.2 280.6L1983.9 281.1L1984.6 281.8L1985.3 282.7L1986.1 283.8L1986.8 285.1L1987.5 286.6L1988.2 288.3L1989.0 290.1L1989.7 292.1L1990.4 294.3L1991.1 296.7L1991.9 299.1L1992.6 301.7L1993.3 304.5L1994.0 307.3L1994.8 310.2L1995.5 313.2L1996.2 316.3L1996.9 319.4L1997.6 322.6L1998.4 325.8L1999.1 329.1L1999.8 332.3L2000.5 335.6L2001.3 338.8L2002.0 342.0L2002.7 345.2L2003.4 348.3L2004.2 351.4L2004.9 354.4L2005.6 357.4L2006.3 360.3L2007.1 363.1L2007.8 365.8L2008.5 368.4L2009.2 370.9L2009.9 373.4L2010.7 375.7L2011.4 377.9L2012.1 380.0L2012.8 382.1L2013.6 384.0L2014.3 385.8L2015.0 387.5L2015.7 389.1L2016.5 390.5L2017.2 391.9L2017.9 393.2L2018.6 394.4L2019.4 395.5L2020.1 396.5L2020.8 397.4L2021.5 398.2L2022.3 399.0L2023.0 399.6L2023.7 400.2L2024.4 400.7L2025.1 401.1L2025.9 401.4L2026.6 401.7L2027.3 401.9L2028.0 402.1L2028.8 402.1L2029.5 402.1L2030.2 402.1L2030.9 401.9L2031.7 401.7L2032.4 401.4L2033.1 401.1L2033.8 400.7L2034.6 400.2L2035.3 399.6L2036.0 399.0L2036.7 398.3L2037.5 397.5L2038.2 396.6L2038.9 395.7L2039.6 394.7L2040.3 393.5L2041.1 392.4L2041.8 391.1L2042.5 389.7L2043.2 388.3L2044.0 386.7L2044.7 385.1L2045.4 383.4L2046.1 381.6L2046.9 379.8L2047.6 377.8L2048.3 375.8L2049.0 373.7L2049.8 371.6L2050.5 369.4L2051.2 367.1L2051.9 364.8L2052.7 362.5L2053.4 360.1L2054.1 357.7L2054.8 355.2L2055.5 352.8L2056.3 350.3L2057.0 347.9L2057.7 345.5L2058.4 343.1L2059.2 340.7L2059.9 338.4L2060.6 336.1L2061.3 333.9L2062.1 331.8L2062.8 329.7L2063.5 327.8L2064.2 325.9L2065.0 324.2L2065.7 322.6L2066.4 321.1L2067.1 319.8L2067.9 318.6L2068.6 317.5L2069.3 316.6L2070.0 315.9L2070.7 315.3L2071.5 314.9L2072.2 314.6L2072.9 314.6L2073.6 314.7L2074.4 314.9L2075.1 315.4L2075.8 316.0L2076.5 316.7L2077.3 317.7L2078.0 318.8L2078.7 320.0L2079.4 321.4L2080.2 322.9L2080.9 324.6L2081.6 326.4L2082.3 328.3L2083.1 330.3L2083.8 332.4L2084.5 334.6" stroke="#00ff00" stroke-dasharray="18.6 6.16" stroke-dashoffset="0"/>
<path d="M1505.5 226.8L1506.2 216.3L1506.9 205.6L1507.6 194.7L1508.4 183.8L1509.1 172.8L1509.8 161.9L1510.5 151.1L1511.3 140.6L1512.0 130.4L1512.7 120.7L1513.4 111.5L1514.2 102.9L1514.9 94.9L1515.6 87.7L1516.3 81.4L1517.1 76.0L1517.8 71.5L1518.5 68.0L1519.2 65.5L1519.9 64.1L1520.7 63.7L1521.4 64.5L1522.1 66.3L1522.8 69.1L1523.6 73.0L1524.3 77.8L1525.0 83.6L1525.7 90.2L1526.5 97.6L1527.2 105.8L1527.9 114.6L1528.6 124.0L1529.4 133.8L1530.1 144.0L1530.8 154.6L1531.5 165.4L1532.3 176.3L1533.0 187.2L1533.7 198.1L1534.4 208.9L1535.1 219.5L1535.9 229.8L1536.6 239.9L1537.3 249.5L1538.0 258.8L1538.8 267.6L1539.5 276.0L1540.2 283.8L1540.9 291.2L1541.7 298.0L1542.4 304.3L1543.1 310.0L1543.8 315.2L1544.6 319.8L1545.3 323.9L1546.0 327.5L1546.7 330.6L1547.4 333.2L1548.2 335.3L1548.9 336.9L1549.6 338.1L1550.3 338.7L1551.1 338.9L1551.8 338.7L1552.5 337.9L1553.2 336.7L1554.0 335.0L1554.7 332.8L1555.4 330.2L1556.1 327.0L1556.9 323.3L1557.6 319.1L1558.3 314.4L1559.0 309.1L1559.8 303.4L1560.5 297.1L1561.2 290.3L1561.9 282.9L1562.6 275.1L1563.4 266.9L1564.1 258.1L1564.8 249.0L1565.5 239.5L1566.3 229.8L1567.0 219.7L1567.7 209.5L1568.4 199.1L1569.2 188.7L1569.9 178.3L1570.6 168.0L1571.3 157.9L1572.1 148.1L1572.8 138.6L1573.5 129.5L1574.2 121.0L1575.0 113.0L1575.7 105.8L1576.4 99.2L1577.1 93.5L1577.8 88.6L1578.6 84.7L1579.3 81.7L1580.0 79.6L1580.7 78.6L1581.5 78.6L1582.2 79.6L1582.9 81.5L1583.6 84.5L1584.4 88.4L1585.1 93.3L1585.8 99.0L1586.5 105.5L1587.3 112.7L1588.0 120.6L1588.7 129.2L1589.4 138.2L1590.2 147.7L1590.9 157.6L1591.6 167.7L1592.3 178.0L1593.0 188.5L1593.8 199.0L1594.5 209.4L1595.2 219.7L1595.9 229.9L1596.7 239.8L1597.4 249.4L1598.1 258.7L1598.8 267.6L1599.6 276.0L1600.3 284.0L1601.0 291.6L1601.7 298.6L1602.5 305.2L1603.2 311.2L1603.9 316.7L1604.6 321.7L1605.4 326.1L1606.1 330.1L1606.8 333.6L1607.5 336.5L1608.2 339.0L1609.0 341.0L1609.7 342.5L1610.4 343.5L1611.1 344.1L1611.9 344.3L1612.6 343.9L1613.3 343.1L1614.0 341.9L1614.8 340.1L1615.5 337.9L1616.2 335.3L1616.9 332.1L1617.7 328.4L1618.4 324.3L1619.1 319.6L1619.8 314.5L1620.6 308.8L1621.3 302.7L1622.0 296.0L1622.7 288.9L1623.4 281.3L1624.2 273.3L1624.9 264.9L1625.6 256.2L1626.3 247.1L1627.1 237.7L1627.8 228.2L1628.5 218.4L1629.2 208.6L1630.0 198.7L1630.7 188.9L1631.4 179.2L1632.1 169.8L1632.9 160.5L1633.6 151.7L1634.3 143.3L1635.0 135.4L1635.8 128.0L1636.5 121.4L1637.2 115.4L1637.9 110.2L1638.6 105.9L1639.4 102.4L1640.1 99.9L1640.8 98.2L1641.5 97.6L1642.3 97.8L1643.0 99.1L1643.7 101.2L1644.4 104.3L1645.2 108.3L1645.9 113.2L1646.6 118.8L1647.3 125.3L1648.1 132.4L1648.8 140.1L1649.5 148.4L1650.2 157.1L1651.0 166.3L1651.7 175.8L1652.4 185.5L1653.1 195.4L1653.8 205.4L1654.6 215.4L1655.3 225.4L1656.0 235.2L1656.7 244.8L1657.5 254.2L1658.2 263.3L1658.9 272.1L1659.6 280.5L1660.4 288.5L1661.1 296.0L1661.8 303.1L1662.5 309.8L1663.3 315.9L1664.0 321.5L1664.7 326.7L1665.4 331.3L1666.2 335.5L1666.9 339.2L1667.6 342.4L1668.3 345.1L1669.0 347.4L1669.8 349.2L1670.5 350.6L1671.2 351.5L1671.9 352.0L1672.7 352.0L1673.4 351.6L1674.1 350.8L1674.8 349.6L1675.6 347.9L1676.3 345.8L1677.0 343.2L1677.7 340.2L1678.5 336.7L1679.2 332.8L1679.9 328.4L1680.6 323.5L1681.4 318.2L1682.1 312.4L1682.8 306.1L1683.5 299.5L1684.2 292.4L1685.0 285.0L1685.7 277.1L1686.4 269.0L1687.1 260.6L1687.9 251.9L1688.6 243.1L1689.3 234.1L1690.0 225.0L1690.8 216.0L1691.5 207.0L1692.2 198.1L1692.9 189.5L1693.7 181.1L1694.4 173.1L1695.1 165.5L1695.8 158.4L1696.5 151.8L1697.3 145.9L1698.0 140.7L1698.7 136.1L1699.4 132.4L1700.2 129.5L1700.9 127.4L1701.6 126.2L1702.3 125.9L1703.1 126.5L1703.8 127.9L1704.5 130.3L1705.2 133.4L1706.0 137.4L1706.7 142.2L1707.4 147.7L1708.1 153.9L1708.9 160.7L1709.6 168.0L1710.3 175.9L1711.0 184.1L1711.7 192.7L1712.5 201.6L1713.2 210.7L1713.9 220.0L1714.6 229.2L1715.4 238.5L1716.1 247.7L1716.8 256.8L1717.5 265.6L1718.3 274.3L1719.0 282.6L1719.7 290.6L1720.4 298.2L1721.2 305.5L1721.9 312.3L1722.6 318.8L1723.3 324.7L1724.1 330.2L1724.8 335.3L1725.5 339.9L1726.2 344.0L1726.9 347.7L1727.7 351.0L1728.4 353.8L1729.1 356.2L1729.8 358.2L1730.6 359.7L1731.3 360.9L1732.0 361.7L1732.7 362.1L1733.5 362.1L1734.2 361.7L1734.9 360.9L1735.6 359.7L1736.4 358.1L1737.1 356.2L1737.8 353.8L1738.5 351.1L1739.3 347.9L1740.0 344.3L1740.7 340.3L1741.4 335.8L1742.1 331.0L1742.9 325.7L1743.6 320.1L1744.3 314.0L1745.0 307.6L1745.8 300.8L1746.5 293.7L1747.2 286.3L1747.9 278.7L1748.7 270.8L1749.4 262.8L1750.1 254.7L1750.8 246.6L1751.6 238.4L1752.3 230.3L1753.0 222.3L1753.7 214.6L1754.5 207.1L1755.2 199.9L1755.9 193.1L1756.6 186.9L1757.3 181.1L1758.1 175.9L1758.8 171.3L1759.5 167.4L1760.2 164.3L1761.0 161.8L1761.7 160.2L1762.4 159.4L1763.1 159.3L1763.9 160.1L1764.6 161.6L1765.3 164.0L1766.0 167.1L1766.8 170.9L1767.5 175.5L1768.2 180.7L1768.9 186.5L1769.7 192.8L1770.4 199.6L1771.1 206.9L1771.8 214.5L1772.5 222.4L1773.3 230.5L1774.0 238.8L1774.7 247.2L1775.4 255.6L1776.2 264.0L1776.9 272.2L1777.6 280.4L1778.3 288.3L1779.1 296.0L1779.8 303.5L1780.5 310.6L1781.2 317.4L1782.0 323.8L1782.7 329.8L1783.4 335.5L1784.1 340.7L1784.9 345.5L1785.6 349.9L1786.3 353.9L1787.0 357.5L1787.7 360.7L1788.5 363.5L1789.2 365.9L1789.9 368.0L1790.6 369.6L1791.4 371.0L1792.1 371.9L1792.8 372.5L1793.5 372.8L1794.3 372.7L1795.0 372.3L1795.7 371.6L1796.4 370.5L1797.2 369.1L1797.9 367.3L1798.6 365.2L1799.3 362.7L1800.1 359.8L1800.8 356.6L1801.5 352.9L1802.2 349.0L1802.9 344.6L1803.7 339.9L1804.4 334.8L1805.1 329.4L1805.8 323.6L1806.6 317.5L1807.3 311.2L1808.0 304.5L1808.7 297.7L1809.5 290.7L1810.2 283.5L1810.9 276.3L1811.6 269.0L1812.4 261.7L1813.1 254.5L1813.8 247.4L1814.5 240.5L1815.3 233.8L1816.0 227.5L1816.7 221.6L1817.4 216.0L1818.1 211.0L1818.9 206.5L1819.6 202.6L1820.3 199.2L1821.0 196.6L1821.8 194.6L1822.5 193.3L1823.2 192.8L1823.9 193.0L1824.7 193.9L1825.4 195.5L1826.1 197.8L1826.8 200.8L1827.6 204.5L1828.3 208.7L1829.0 213.6L1829.7 218.9L1830.5 224.8L1831.2 231.0L1831.9 237.6L1832.6 244.6L1833.3 251.7L1834.1 259.1L1834.8 266.5L1835.5 274.0L1836.2 281.6L1837.0 289.0L1837.7 296.4L1838.4 303.6L1839.1 310.6L1839.9 317.4L1840.6 324.0L1841.3 330.2L1842.0 336.1L1842.8 341.7L1843.5 347.0L1844.2 351.8L1844.9 356.3L1845.7 360.5L1846.4 364.2L1847.1 367.6L1847.8 370.7L1848.5 373.4L1849.3 375.7L1850.0 377.8L1850.7 379.5L1851.4 380.8L1852.2 381.9L1852.9 382.7L1853.6 383.1L1854.3 383.3L1855.1 383.2L1855.8 382.8L1856.5 382.1L1857.2 381.1L1858.0 379.9L1858.7 378.3L1859.4 376.4L1860.1 374.2L1860.8 371.7L1861.6 368.8L1862.3 365.7L1863.0 362.2L1863.7 358.4L1864.5 354.3L1865.2 349.8L1865.9 345.1L1866.6 340.0L1867.4 334.7L1868.1 329.2L1868.8 323.4L1869.5 317.5L1870.3 311.4L1871.0 305.1L1871.7 298.8L1872.4 292.5L1873.2 286.2L1873.9 280.0L1874.6 273.8L1875.3 267.9L1876.0 262.2L1876.8 256.8L1877.5 251.7L1878.2 247.0L1878.9 242.8L1879.7 239.0L1880.4 235.7L1881.1 233.0L1881.8 230.8L1882.6 229.3L1883.3 228.4L1884.0 228.1L1884.7 228.4L1885.5 229.4L1886.2 231.0L1886.9 233.2L1887.6 236.0L1888.4 239.4L1889.1 243.3L1889.8 247.6L1890.5 252.4L1891.2 257.6L1892.0 263.2L1892.7 269.0L1893.4 275.1L1894.1 281.4L1894.9 287.8L1895.6 294.3L1896.3 300.9L1897.0 307.4L1897.8 313.8L1898.5 320.2L1899.2 326.4L1899.9 332.4L1900.7 338.2L1901.4 343.7L1902.1 349.0L1902.8 354.0L1903.6 358.6L1904.3 363.0L1905.0 367.1L1905.7 370.8L1906.4 374.2L1907.2 377.3L1907.9 380.1L1908.6 382.6L1909.3 384.8L1910.1 386.7L1910.8 388.3L1911.5 389.6L1912.2 390.7L1913.0 391.5L1913.7 392.1L1914.4 392.4L1915.1 392.5L1915.9 392.3L1916.6 391.9L1917.3 391.3L1918.0 390.4L1918.8 389.2L1919.5 387.9L1920.2 386.2L1920.9 384.3L1921.6 382.2L1922.4 379.7L1923.1 377.0L1923.8 374.0L1924.5 370.8L1925.3 367.2L1926.0 363.4L1926.7 359.4L1927.4 355.1L1928.2 350.6L1928.9 345.8L1929.6 340.9L1930.3 335.8L1931.1 330.6L1931.8 325.3L1932.5 320.0L1933.2 314.6L1934.0 309.3L1934.7 304.0L1935.4 298.8L1936.1 293.8L1936.8 289.0L1937.6 284.5L1938.3 280.3L1939.0 276.4L1939.7 272.8L1940.5 269.7L1941.2 267.1L1941.9 264.9L1942.6 263.2L1943.4 262.0L1944.1 261.4L1944.8 261.3L1945.5 261.7L1946.3 262.7L1947.0 264.2L1947.7 266.2L1948.4 268.7L1949.2 271.7L1949.9 275.1L1950.6 278.9L1951.3 283.1L1952.0 287.5L1952.8 292.3L1953.5 297.3L1954.2 302.5L1954.9 307.8L1955.7 313.2L1956.4 318.7L1957.1 324.1L1957.8 329.6L1958.6 334.9L1959.3 340.2L1960.0 345.3L1960.7 350.2L1961.5 355.0L1962.2 359.5L1962.9 363.8L1963.6 367.8L1964.4 371.6L1965.1 375.1L1965.8 378.3L1966.5 381.3L1967.2 384.0L1968.0 386.4L1968.7 388.6L1969.4 390.5L1970.1 392.2L1970.9 393.7L1971.6 394.9L1972.3 395.9L1973.0 396.7L1973.8 397.3L1974.5 397.7L1975.2 397.9L1975.9 397.9L1976.7 397.7L1977.4 397.4L1978.1 396.8L1978.8 396.1L1979.6 395.1L1980.3 394.0L1981.0 392.6L1981.7 391.1L1982.4 389.3L1983.2 387.3L1983.9 385.1L1984.6 382.6L1985.3 380.0L1986.1 377.1L1986.8 374.0L1987.5 370.6L1988.2 367.1L1989.0 363.4L1989.7 359.5L1990.4 355.4L1991.1 351.3L1991.9 347.0L1992.6 342.6L1993.3 338.2L1994.0 333.8L1994.8 329.4L1995.5 325.1L1996.2 320.8L1996.9 316.7L1997.6 312.8L1998.4 309.1L1999.1 305.6L1999.8 302.4L2000.5 299.6L2001.3 297.1L2002.0 294.9L2002.7 293.2L2003.4 291.9L2004.2 291.0L2004.9 290.6L2005.6 290.6L2006.3 291.0L2007.1 291.9L2007.8 293.3L2008.5 295.0L2009.2 297.2L2009.9 299.7L2010.7 302.6L2011.4 305.8L2012.1 309.3L2012.8 313.1L2013.6 317.1L2014.3 321.3L2015.0 325.6L2015.7 330.0L2016.5 334.5L2017.2 339.0L2017.9 343.5L2018.6 348.0L2019.4 352.4L2020.1 356.7L2020.8 360.9L2021.5 364.9L2022.3 368.7L2023.0 372.4L2023.7 375.8L2024.4 379.1L2025.1 382.1L2025.9 384.9L2026.6 387.5L2027.3 389.8L2028.0 392.0L2028.8 393.9L2029.5 395.6L2030.2 397.1L2030.9 398.4L2031.7 399.5L2032.4 400.5L2033.1 401.2L2033.8 401.8L2034.6 402.3L2035.3 402.6L2036.0 402.7L2036.7 402.7L2037.5 402.6L2038.2 402.3L2038.9 401.8L2039.6 401.2L2040.3 400.4L2041.1 399.5L2041.8 398.4L2042.5 397.1L2043.2 395.6L2044.0 394.0L2044.7 392.1L2045.4 390.1L2046.1 387.9L2046.9 385.4L2047.6 382.8L2048.3 380.0L2049.0 377.1L2049.8 373.9L2050.5 370.6L2051.2 367.2L2051.9 363.6L2052.7 360.0L2053.4 356.3L2054.1 352.5L2054.8 348.8L2055.5 345.0L2056.3 341.3L2057.0 337.7L2057.7 334.2L2058.4 330.9L2059.2 327.7L2059.9 324.7L2060.6 322.1L2061.3 319.6L2062.1 317.5L2062.8 315.7L2063.5 314.3L2064.2 313.2L2065.0 312.5L2065.7 312.2L2066.4 312.3L2067.1 312.8L2067.9 313.6L2068.6 314.9L2069.3 316.5L2070.0 318.4L2070.7 320.7L2071.5 323.2L2072.2 326.1L2072.9 329.2L2073.6 332.5L2074.4 336.0L2075.1 339.6L2075.8 343.4L2076.5 347.2L2077.3 351.1L2078.0 355.0L2078.7 358.9L2079.4 362.7L2080.2 366.5L2080.9 370.1L2081.6 373.7L2082.3 377.1L2083.1 380.3L2083.8 383.4L2084.5 386.3" stroke="#0000ff" stroke-dasharray="7.5 7.22" stroke-dashoffset="0"/>
</g>
<g transform="scale(1,1.2140)" fill="none" stroke-width="0.82">
<path d="M1505.50 401.071v-7.084M1505.50 42.175v6.837M1534.50 401.071v-4.366M1534.50 42.175v4.119M1563.50 401.071v-4.366M1563.50 42.175v4.119M1592.50 401.071v-4.366M1592.50 42.175v4.119M1621.50 401.071v-4.366M1621.50 42.175v4.119M1650.50 401.071v-7.084M1650.50 42.175v6.837M1679.50 401.071v-4.366M1679.50 42.175v4.119M1708.50 401.071v-4.366M1708.50 42.175v4.119M1737.50 401.071v-4.366M1737.50 42.175v4.119M1766.50 401.071v-4.366M1766.50 42.175v4.119M1794.50 401.071v-7.084M1794.50 42.175v6.837M1823.50 401.071v-4.366M1823.50 42.175v4.119M1852.50 401.071v-4.366M1852.50 42.175v4.119M1881.50 401.071v-4.366M1881.50 42.175v4.119M1910.50 401.071v-4.366M1910.50 42.175v4.119M1939.50 401.071v-7.084M1939.50 42.175v6.837M1968.50 401.071v-4.366M1968.50 42.175v4.119M1997.50 401.071v-4.366M1997.50 42.175v4.119M2026.50 401.071v-4.366M2026.50 42.175v4.119M2055.50 401.071v-4.366M2055.50 42.175v4.119M2084.50 401.071v-7.084M2084.50 42.175v6.837M1493.50 385.091h7.20M2096.50 385.091h-7.20M1493.50 367.792h4.40M2096.50 367.792h-4.40M1493.50 351.318h4.40M2096.50 351.318h-4.40M1493.50 334.020h4.40M2096.50 334.020h-4.40M1493.50 316.722h4.40M2096.50 316.722h-4.40M1493.50 300.247h7.20M2096.50 300.247h-7.20M1493.50 282.949h4.40M2096.50 282.949h-4.40M1493.50 265.651h4.40M2096.50 265.651h-4.40M1493.50 249.176h4.40M2096.50 249.176h-4.40M1493.50 231.878h4.40M2096.50 231.878h-4.40M1493.50 215.404h7.20M2096.50 215.404h-7.20M1493.50 198.105h4.40M2096.50 198.105h-4.40M1493.50 180.807h4.40M2096.50 180.807h-4.40M1493.50 164.333h4.40M2096.50 164.333h-4.40M1493.50 147.035h4.40M2096.50 147.035h-4.40M1493.50 129.736h7.20M2096.50 129.736h-7.20M1493.50 113.262h4.40M2096.50 113.262h-4.40M1493.50 95.964h4.40M2096.50 95.964h-4.40M1493.50 78.666h4.40M2096.50 78.666h-4.40M1493.50 62.191h4.40M2096.50 62.191h-4.40M1493.50 44.893h7.20M2096.50 44.893h-7.20" stroke="#262626"/>
<rect x="1493.50" y="42.175" width="603.00" height="358.896" stroke="#262626"/>
</g>
<text transform="translate(1487.35,477.38) scale(1,1.214)" font-family='"Liberation Sans", "DejaVu Sans", sans-serif' font-size="29.80" text-anchor="end" stroke="#000" stroke-width="0.75" stroke-linejoin="round" >0.00</text>
<text transform="translate(1487.35,374.13) scale(1,1.214)" font-family='"Liberation Sans", "DejaVu Sans", sans-serif' font-size="29.80" text-anchor="end" stroke="#000" stroke-width="0.75" stroke-linejoin="round" >0.05</text>
<text transform="translate(1487.35,270.88) scale(1,1.214)" font-family='"Liberation Sans", "DejaVu Sans", sans-serif' font-size="29.80" text-anchor="end" stroke="#000" stroke-width="0.75" stroke-linejoin="round" >0.10</text>
<text transform="translate(1487.35,167.63) scale(1,1.214)" font-family='"Liberation Sans", "DejaVu Sans", sans-serif' font-size="29.80" text-anchor="end" stroke="#000" stroke-width="0.75" stroke-linejoin="round" >0.15</text>
<text transform="translate(1487.35,64.38) scale(1,1.214)" font-family='"Liberation Sans", "DejaVu Sans", sans-serif' font-size="29.80" text-anchor="end" stroke="#000" stroke-width="0.75" stroke-linejoin="round" >0.20</text>
<text transform="translate(1505.47,521.23) scale(1,1.195)" font-family='"Liberation Sans", "DejaVu Sans", sans-serif' font-size="29.80" text-anchor="middle" stroke="#000" stroke-width="0.75" stroke-linejoin="round" >0</text>
<text transform="translate(1650.23,521.23) scale(1,1.195)" font-family='"Liberation Sans", "DejaVu Sans", sans-serif' font-size="29.80" text-anchor="middle" stroke="#000" stroke-width="0.75" stroke-linejoin="round" >5</text>
<text transform="translate(1794.99,521.23) scale(1,1.195)" font-family='"Liberation Sans", "DejaVu Sans", sans-serif' font-size="29.80" text-anchor="middle" stroke="#000" stroke-width="0.75" stroke-linejoin="round" >10</text>
<text transform="translate(1939.74,521.23) scale(1,1.195)" font-family='"Liberation Sans", "DejaVu Sans", sans-serif' font-size="29.80" text-anchor="middle" stroke="#000" stroke-width="0.75" stroke-linejoin="round" >15</text>
<text transform="translate(2084.50,521.23) scale(1,1.195)" font-family='"Liberation Sans", "DejaVu Sans", sans-serif' font-size="29.80" text-anchor="middle" stroke="#000" stroke-width="0.75" stroke-linejoin="round" >20</text>
<text transform="translate(1794.80,577.85) scale(1,1.229)" font-family='"Liberation Sans", "DejaVu Sans", sans-serif' font-size="37.80" text-anchor="middle" stroke="#000" stroke-width="0.75" stroke-linejoin="round" >Time</text>
<text transform="translate(1750.80,28.50) scale(1,1.170)" font-family='"Liberation Sans", "DejaVu Sans", sans-serif' font-size="30.00" text-anchor="start" stroke="#000" stroke-width="0.75" stroke-linejoin="round" >E(<tspan font-style="italic">ω</tspan>, t)</text>
<text transform="translate(1521.38,27.64) scale(1.0902,0.9815)" font-family='"Liberation Serif", "DejaVu Serif", serif' font-size="40.0" stroke="#000" stroke-width="0.30">(</text>
<text transform="translate(1535.82,29.30) scale(1.0439,1.0292)" font-family='"Liberation Serif", "DejaVu Serif", serif' font-size="40.0" font-style="italic" stroke="#000" stroke-width="0.30">c</text>
<text transform="translate(1553.26,27.64) scale(1.1194,0.9815)" font-family='"Liberation Serif", "DejaVu Serif", serif' font-size="40.0" stroke="#000" stroke-width="0.30">)</text>
<g transform="scale(1,1.1600)" fill="none" stroke-width="4">
<path d="M1911.70 71.724H1982.80" stroke="#ff0000"/>
<path d="M1911.70 103.362H1981.90" stroke="#00ff00" stroke-dasharray="2.05 0.56"/>
<path d="M1911.70 134.828H1982.80" stroke="#0000ff" stroke-dasharray="8 7"/>
</g>
<text transform="translate(1988.40,94.70) scale(1,1.115)" font-family='"Liberation Sans", "DejaVu Sans", sans-serif' font-size="27.90" text-anchor="start" stroke="#000" stroke-width="0.75" stroke-linejoin="round" ><tspan font-style="italic">ω</tspan> = 1.0</text>
<text transform="translate(1988.40,131.40) scale(1,1.115)" font-family='"Liberation Sans", "DejaVu Sans", sans-serif' font-size="27.90" text-anchor="start" stroke="#000" stroke-width="0.75" stroke-linejoin="round" ><tspan font-style="italic">ω</tspan> = 2.0</text>
<text transform="translate(1988.40,167.90) scale(1,1.115)" font-family='"Liberation Sans", "DejaVu Sans", sans-serif' font-size="27.90" text-anchor="start" stroke="#000" stroke-width="0.75" stroke-linejoin="round" ><tspan font-style="italic">ω</tspan> = 3.0</text>
</g>
</svg>
</body>
</html>
